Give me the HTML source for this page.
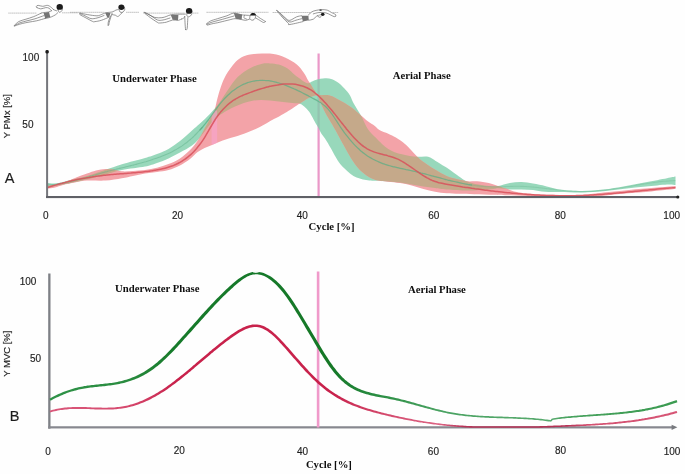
<!DOCTYPE html>
<html lang="en"><head><meta charset="utf-8"><title>Figure</title>
<style>html,body{margin:0;padding:0;background:#fefefe}body{width:685px;height:474px;overflow:hidden}svg{display:block}</style>
</head><body>
<svg width="685" height="474" viewBox="0 0 685 474">
<defs><clipPath id="rc"><path d="M47.0 186.0C48.3 185.8 52.3 185.5 55.0 185.0C57.7 184.5 59.7 184.2 63.0 183.0C66.3 181.8 71.0 179.6 75.0 178.0C79.0 176.4 83.5 174.8 87.0 173.6C90.5 172.3 92.9 171.3 96.0 170.5C99.1 169.7 102.6 169.2 105.4 169.0C108.2 168.8 110.3 169.1 113.0 169.5C115.7 169.9 118.5 171.1 121.8 171.3C125.1 171.6 129.1 171.2 133.0 171.0C136.9 170.8 141.0 170.5 145.0 170.0C149.0 169.5 153.1 168.8 157.0 167.8C160.9 166.8 164.7 165.6 168.5 164.0C172.3 162.4 176.1 161.1 180.0 158.4C183.9 155.7 188.7 151.6 192.0 148.0C195.3 144.4 197.7 140.7 200.0 137.0C202.3 133.3 204.2 129.3 206.0 126.0C207.8 122.7 209.6 119.7 211.0 117.0C212.4 114.3 213.5 113.1 214.6 110.0C215.7 106.9 216.3 102.3 217.4 98.4C218.5 94.5 219.5 90.6 220.9 86.7C222.3 82.8 223.8 78.9 226.0 75.0C228.2 71.1 231.7 66.3 234.2 63.4C236.7 60.5 238.6 59.0 241.2 57.5C243.8 56.0 246.5 55.2 250.0 54.5C253.5 53.8 258.1 53.6 262.0 53.5C265.9 53.4 269.7 53.3 273.5 54.0C277.3 54.7 281.1 55.8 285.0 57.5C288.9 59.2 293.7 62.0 296.8 64.5C299.9 67.0 301.9 70.0 303.8 72.7C305.8 75.5 306.7 78.1 308.5 81.0C310.3 83.9 312.7 87.9 314.4 90.2C316.1 92.5 316.1 93.9 318.6 94.8C321.1 95.7 325.9 94.6 329.5 95.5C333.1 96.4 336.3 98.4 340.0 100.4C343.7 102.4 348.1 104.9 351.6 107.4C355.1 109.9 358.3 113.2 361.0 115.5C363.7 117.8 365.5 119.5 367.8 121.3C370.1 123.0 372.9 124.5 374.8 126.0C376.7 127.5 377.1 128.7 379.4 130.0C381.6 131.3 385.6 132.5 388.3 133.8C391.1 135.1 393.1 135.9 395.9 137.6C398.7 139.3 402.5 141.8 405.0 143.9C407.5 146.0 409.1 148.0 411.0 150.0C412.9 152.0 414.5 154.0 416.6 156.0C418.7 158.0 420.4 159.8 423.5 162.0C426.6 164.2 431.1 167.2 435.0 169.5C438.9 171.8 442.8 174.3 446.7 176.0C450.6 177.7 454.9 178.6 458.4 179.5C461.9 180.4 464.7 181.0 467.8 181.3C470.9 181.6 473.5 181.0 477.0 181.3C480.5 181.6 485.3 182.2 488.8 183.0C492.3 183.8 495.3 185.1 498.0 186.0C500.7 186.9 501.9 187.3 505.0 188.3C508.1 189.3 512.9 191.1 516.8 192.0C520.7 192.9 524.6 193.1 528.5 193.5C532.4 193.9 534.8 194.3 540.0 194.6C545.2 194.8 553.0 194.9 560.0 195.0C567.0 195.1 574.8 195.4 582.0 195.0C589.2 194.6 596.4 193.4 603.5 192.6C610.6 191.8 617.7 191.1 624.7 190.4C631.8 189.7 638.8 189.2 645.8 188.6C652.8 188.0 662.0 187.2 667.0 186.8C672.0 186.4 674.1 186.1 675.5 185.9L675.5 188.8C674.1 189.0 672.0 189.3 667.0 189.8C662.0 190.3 652.8 191.4 645.8 192.0C638.8 192.6 631.8 193.0 624.7 193.6C617.7 194.2 610.6 195.2 603.5 195.7C596.4 196.2 589.2 196.5 582.0 196.6C574.8 196.7 568.9 196.6 560.0 196.5C551.1 196.4 537.7 196.1 528.5 195.9C519.3 195.7 510.8 195.4 505.0 195.2C499.2 195.0 498.7 195.0 493.5 194.8C488.3 194.7 479.8 194.5 474.0 194.3C468.2 194.1 463.6 194.0 459.0 193.8C454.4 193.6 450.7 193.6 446.7 193.3C442.7 193.0 438.9 192.5 435.0 191.8C431.1 191.1 427.3 190.1 423.4 189.0C419.5 187.9 415.6 186.5 411.7 185.5C407.8 184.5 403.9 183.6 400.0 183.0C396.1 182.4 391.5 182.0 388.3 181.7C385.1 181.4 383.1 181.3 381.0 181.0C378.9 180.7 377.6 180.6 375.6 180.0C373.7 179.4 371.4 178.5 369.3 177.3C367.2 176.1 365.1 174.6 363.0 172.8C360.9 171.0 358.8 169.0 356.8 166.5C354.8 164.0 352.6 160.7 350.8 157.8C349.0 154.9 347.5 152.0 345.8 149.0C344.1 146.0 342.6 143.3 340.8 140.0C339.0 136.7 336.6 132.2 334.8 129.0C333.0 125.8 331.5 123.3 330.0 120.8C328.5 118.3 327.3 116.4 326.0 114.0C324.7 111.6 323.4 108.7 322.3 106.4C321.2 104.2 320.2 102.3 319.4 100.5C318.6 98.7 319.1 95.9 317.5 95.4C315.9 94.9 312.1 96.4 309.5 97.5C306.9 98.6 304.1 100.7 302.0 102.0C299.9 103.3 298.8 104.2 296.8 105.5C294.8 106.8 292.0 108.8 290.0 110.0C288.0 111.2 287.1 111.8 285.0 113.0C282.9 114.2 280.1 116.0 277.6 117.3C275.2 118.6 272.7 119.7 270.3 121.0C267.9 122.3 265.4 124.0 263.0 125.3C260.6 126.6 258.1 127.9 255.7 129.0C253.3 130.1 250.8 131.0 248.4 132.0C246.0 133.0 243.4 134.0 241.0 134.8C238.6 135.6 236.4 136.3 234.0 137.0C231.6 137.7 229.0 138.4 226.5 139.2C224.0 140.0 221.4 141.0 219.0 142.0C216.6 143.0 214.4 144.0 212.0 145.0C209.6 146.0 207.0 146.8 204.6 148.0C202.2 149.2 199.7 150.5 197.3 152.3C194.9 154.1 192.9 156.8 190.0 159.0C187.1 161.2 183.6 163.6 180.0 165.4C176.4 167.2 172.3 168.9 168.5 170.0C164.7 171.1 160.9 171.4 157.0 172.0C153.1 172.6 149.0 172.9 145.0 173.6C141.0 174.3 136.9 175.2 133.0 176.0C129.1 176.8 126.4 177.5 121.8 178.3C117.2 179.1 111.2 180.2 105.4 180.6C99.6 181.0 92.1 180.3 87.0 180.6C81.9 180.9 79.0 181.8 75.0 182.5C71.0 183.2 66.3 184.2 63.0 185.0C59.7 185.8 57.7 186.9 55.0 187.5C52.3 188.1 48.3 188.6 47.0 188.8Z"/></clipPath><clipPath id="gc"><path d="M47.0 183.0C48.3 183.1 52.3 183.7 55.0 183.5C57.7 183.3 59.7 182.8 63.0 182.0C66.3 181.2 71.0 180.0 75.0 179.0C79.0 178.0 82.0 177.5 87.0 176.0C92.0 174.5 99.2 171.9 105.0 170.0C110.8 168.1 115.3 166.3 122.0 164.3C128.7 162.3 139.2 159.7 145.0 158.0C150.8 156.3 153.1 155.5 157.0 154.0C160.9 152.5 164.7 151.2 168.5 149.0C172.3 146.8 176.1 144.1 180.0 141.0C183.9 137.9 188.7 133.3 192.0 130.4C195.3 127.5 196.9 126.2 200.0 123.4C203.1 120.6 207.2 116.9 210.4 113.5C213.6 110.1 216.7 106.3 219.3 102.8C222.0 99.3 223.7 96.1 226.3 92.3C228.9 88.5 232.1 83.4 235.0 80.0C237.9 76.6 240.9 74.3 243.8 72.1C246.7 69.9 249.6 68.3 252.5 66.9C255.4 65.5 258.4 64.5 261.3 63.9C264.2 63.3 267.1 63.3 270.0 63.4C272.9 63.5 275.9 63.7 278.8 64.6C281.7 65.5 285.0 66.9 287.6 68.6C290.2 70.3 292.3 72.9 294.6 74.8C296.9 76.7 299.7 78.7 301.6 80.0C303.5 81.3 304.8 82.3 306.0 82.8C307.2 83.3 307.9 83.4 308.9 83.2C309.9 83.0 310.7 82.2 311.9 81.6C313.1 81.0 314.1 80.2 316.3 79.7C318.5 79.2 322.4 78.4 325.0 78.3C327.6 78.2 329.7 78.4 332.0 79.2C334.3 80.0 336.7 81.4 339.0 83.2C341.3 85.0 344.2 88.2 346.0 90.2C347.8 92.2 348.7 93.1 350.0 95.4C351.3 97.7 352.2 100.7 354.0 104.0C355.8 107.3 358.7 111.3 361.0 115.5C363.3 119.7 365.4 125.3 367.8 129.0C370.2 132.7 373.2 135.1 375.6 137.6C378.0 140.1 379.9 142.0 382.0 143.9C384.1 145.8 386.2 147.6 388.3 149.0C390.4 150.4 392.5 151.4 394.6 152.2C396.7 153.0 398.5 153.4 401.0 154.0C403.5 154.6 406.8 155.5 409.6 156.0C412.4 156.5 414.9 156.7 417.7 156.8C420.5 156.9 424.2 156.3 426.6 156.6C429.0 156.9 430.3 157.6 432.0 158.5C433.7 159.4 434.2 160.1 437.0 161.8C439.8 163.6 445.0 166.6 448.7 169.0C452.4 171.4 456.1 174.5 459.0 176.5C461.9 178.5 463.0 179.7 466.0 181.0C469.0 182.3 473.2 183.5 477.0 184.3C480.8 185.1 485.3 185.7 488.8 186.0C492.3 186.3 494.5 186.5 498.0 186.0C501.5 185.5 505.9 183.7 509.8 183.0C513.7 182.3 517.6 181.9 521.5 182.0C525.4 182.1 529.1 182.9 533.0 183.6C536.9 184.3 542.1 185.3 545.0 186.0C547.9 186.7 547.9 186.9 550.6 187.5C553.3 188.1 555.8 189.1 561.0 189.7C566.2 190.3 574.9 190.9 582.0 190.9C589.1 190.9 596.4 190.4 603.5 189.6C610.6 188.8 617.7 187.4 624.7 186.2C631.8 185.0 638.8 183.6 645.8 182.3C652.8 181.0 662.0 179.1 667.0 178.2C672.0 177.2 674.1 176.9 675.5 176.6L675.5 185.0C674.1 184.9 672.0 184.2 667.0 184.5C662.0 184.8 652.8 185.9 645.8 186.6C638.8 187.3 631.8 187.9 624.7 188.7C617.7 189.5 610.6 190.6 603.5 191.2C596.4 191.8 589.2 192.4 582.0 192.5C574.8 192.6 566.2 192.1 560.0 192.0C553.8 191.9 549.5 192.1 545.0 191.8C540.5 191.5 536.9 190.4 533.0 190.0C529.1 189.6 525.3 189.5 521.5 189.4C517.7 189.3 513.9 189.6 510.0 189.4C506.1 189.2 500.8 188.4 498.0 188.3C495.2 188.2 498.2 188.6 493.5 189.0C488.8 189.4 477.8 190.4 470.0 190.5C462.2 190.6 452.5 189.9 446.7 189.5C440.9 189.1 438.9 188.5 435.0 188.0C431.1 187.5 427.3 187.1 423.4 186.5C419.5 185.9 415.6 185.2 411.7 184.5C407.8 183.8 403.9 183.0 400.0 182.5C396.1 182.0 392.4 181.8 388.3 181.5C384.2 181.2 378.8 181.0 375.6 180.8C372.4 180.6 371.4 180.6 369.3 180.4C367.2 180.2 365.1 179.9 363.0 179.4C360.9 178.9 358.7 178.4 356.6 177.5C354.5 176.6 352.4 175.3 350.3 173.7C348.2 172.1 346.1 170.2 344.0 168.0C341.9 165.8 339.8 163.6 337.7 160.4C335.6 157.2 333.4 152.7 331.3 149.0C329.2 145.3 326.7 141.1 325.0 138.5C323.3 135.9 322.6 135.5 321.3 133.5C320.1 131.5 318.8 128.6 317.5 126.3C316.2 124.0 315.1 122.2 313.7 119.7C312.3 117.2 310.6 113.8 309.0 111.6C307.4 109.4 305.8 107.7 304.2 106.4C302.6 105.1 300.7 104.1 299.5 103.6C298.3 103.1 298.8 103.5 296.8 103.3C294.8 103.1 290.6 102.8 287.6 102.5C284.6 102.2 281.7 101.9 278.8 101.6C275.9 101.3 272.9 100.9 270.0 100.6C267.1 100.3 264.2 100.0 261.3 100.0C258.4 100.0 255.4 100.3 252.5 100.8C249.6 101.3 246.7 102.0 243.8 103.0C240.9 104.0 237.8 105.2 235.0 106.5C232.2 107.8 229.5 109.1 226.7 110.8C223.9 112.5 220.7 114.3 218.0 116.5C215.3 118.7 213.4 120.5 210.4 124.0C207.4 127.5 203.1 133.8 200.0 137.4C196.9 141.0 195.3 143.1 192.0 145.6C188.7 148.1 183.9 150.5 180.0 152.6C176.1 154.7 172.3 156.7 168.5 158.4C164.7 160.1 160.9 161.6 157.0 163.0C153.1 164.4 150.8 165.4 145.0 166.6C139.2 167.8 128.7 168.6 122.0 170.0C115.3 171.4 110.8 173.2 105.0 174.8C99.2 176.4 94.0 177.9 87.0 179.5C80.0 181.1 69.7 183.2 63.0 184.5C56.3 185.8 49.7 187.1 47.0 187.6Z"/></clipPath>
<filter id="bl" x="-5%" y="-5%" width="110%" height="110%"><feGaussianBlur stdDeviation="0.45"/></filter>
<filter id="bl2" x="-5%" y="-5%" width="110%" height="110%"><feGaussianBlur stdDeviation="0.35"/></filter><filter id="bl3" x="-5%" y="-20%" width="110%" height="140%"><feGaussianBlur stdDeviation="0.3"/></filter></defs>
<rect width="685" height="474" fill="#fefefe"/>
<g filter="url(#bl3)">
<g stroke="#9c9c9c" stroke-width="0.6" stroke-dasharray="1.6 0.3" fill="none">
<path d="M8.2 13.1H36.6"/>
<path d="M62.0 12.8H78.0"/>
<path d="M70.0 12.3H104.5"/>
<path d="M126.0 12.3H139.0"/>
<path d="M143.2 13.1H185.3"/>
<path d="M193.0 13.1H198.7"/>
<path d="M206.4 12.3H268.5"/>
<path d="M272.6 12.5H310.5"/>
<path d="M332.8 12.5H338.5"/>
</g>
<g stroke="#6c6c6c" stroke-width="0.7" fill="none" stroke-linejoin="round" stroke-linecap="round">
<path d="M41.1 13.2C39.8 13.8 36.0 15.7 33.5 16.7C31.0 17.7 28.3 18.4 25.9 19.2C23.5 20.0 20.8 20.5 18.9 21.5C17.0 22.5 15.2 24.7 14.5 25.3"/>
<path d="M45.2 18.4C43.8 18.8 39.3 20.2 36.6 20.8C33.9 21.4 31.3 21.7 29.0 22.1C26.7 22.5 24.8 22.9 22.7 23.4C20.6 23.9 17.8 24.8 16.4 25.3C15.0 25.8 14.5 26.2 14.2 26.2C13.9 26.2 14.4 25.4 14.5 25.3"/>
<path d="M51.5 10.8C51.0 11.0 49.9 11.7 48.4 12.0C46.9 12.3 43.9 12.5 42.7 12.7C41.5 12.9 41.4 13.1 41.1 13.2"/>
<path d="M57.8 12.7C57.4 13.1 56.3 14.2 55.3 14.9C54.2 15.6 52.5 16.3 51.5 16.8C50.5 17.3 50.0 17.4 49.0 17.7C48.0 18.0 45.8 18.3 45.2 18.4"/>
<path d="M53.4 9.5C53.1 9.2 52.5 8.3 51.5 7.6C50.5 6.9 49.2 5.6 47.7 5.4C46.2 5.2 44.3 6.3 42.7 6.3C41.1 6.3 39.3 5.4 38.2 5.4C37.1 5.4 36.5 5.9 36.3 6.3C36.1 6.7 36.9 7.4 37.0 7.6"/>
<path d="M37.0 7.6C37.6 7.8 39.3 8.9 40.8 8.9C42.3 8.9 44.4 7.7 45.8 7.6C47.2 7.5 48.0 7.7 49.0 8.2C50.0 8.7 51.1 10.4 51.5 10.8"/>
<path d="M53.4 9.5C53.9 9.7 55.9 10.8 56.6 10.8C57.3 10.8 57.4 9.8 57.6 9.6"/>
<path d="M118.4 9.5C118.0 9.6 117.0 9.7 115.9 10.1C114.9 10.5 113.8 11.6 112.1 12.0C110.4 12.4 107.6 12.3 105.8 12.7C104.0 13.1 102.8 14.1 101.3 14.6C99.8 15.1 99.2 15.8 96.9 15.8C94.6 15.8 90.3 15.1 87.5 14.6C84.7 14.1 81.2 13.3 79.9 13.1"/>
<path d="M109.2 17.1C107.9 17.6 103.7 19.6 101.3 20.3C98.9 21.1 96.5 21.4 95.0 21.6C93.5 21.8 94.1 22.1 92.5 21.4C90.9 20.7 87.3 18.6 85.2 17.5C83.1 16.4 80.8 15.3 79.9 14.6C79.0 13.9 79.9 13.3 79.9 13.1"/>
<path d="M122.8 12.0C122.4 12.4 121.1 13.8 120.3 14.6C119.5 15.3 118.6 16.4 117.8 16.5C117.0 16.6 116.2 15.5 115.3 15.2C114.3 14.9 112.6 14.7 112.1 14.6"/>
<path d="M112.1 13.3C111.8 14.2 110.8 17.1 110.2 19.0C109.6 20.9 108.9 24.0 108.6 25.0"/>
<path d="M110.8 15.8C110.4 16.6 109.1 19.3 108.6 20.9C108.1 22.5 108.0 24.6 108.0 25.3C108.0 26.0 108.5 25.1 108.6 25.0"/>
<path d="M185.3 14.2C184.2 14.2 181.3 14.1 179.0 14.2C176.7 14.3 173.5 14.2 171.4 14.6C169.3 15.0 167.9 16.0 166.3 16.5C164.7 17.0 163.8 17.5 161.9 17.7C160.0 17.9 157.1 18.0 154.9 17.5C152.8 17.0 150.8 15.5 149.0 14.6C147.2 13.7 145.1 12.7 144.3 12.3"/>
<path d="M181.5 19.0C181.0 19.2 179.9 20.1 178.4 20.3C176.9 20.5 174.7 19.7 172.7 20.0C170.7 20.3 168.5 21.7 166.3 22.2C164.1 22.7 161.0 23.0 159.5 23.0C158.0 23.0 158.8 23.1 157.2 22.2C155.6 21.3 152.2 19.0 150.2 17.5C148.1 16.0 145.9 14.3 144.9 13.4C143.9 12.5 144.4 12.5 144.3 12.3"/>
<path d="M184.7 16.5C184.8 17.4 184.9 20.0 185.0 22.2C185.1 24.4 185.4 28.3 185.5 29.5"/>
<path d="M187.8 17.7C187.8 18.8 187.6 22.1 187.5 24.0C187.4 25.9 187.3 28.4 187.0 29.3C186.7 30.2 185.8 29.5 185.5 29.5"/>
<path d="M181.5 19.0C181.8 18.9 183.0 18.7 183.5 18.3C184.0 17.9 184.5 16.8 184.7 16.5"/>
<path d="M250.3 15.5C249.6 15.4 247.2 15.3 245.8 15.2C244.4 15.1 244.0 15.2 242.0 14.9C240.0 14.6 236.4 12.9 233.9 13.1C231.4 13.2 229.6 14.9 226.9 15.8C224.2 16.7 220.2 17.8 217.5 18.7C214.8 19.6 212.2 20.2 210.5 21.0C208.8 21.8 207.6 23.0 207.0 23.4"/>
<path d="M249.6 19.0C249.0 19.2 247.1 20.2 245.8 20.3C244.5 20.4 243.5 19.9 241.7 19.6C239.9 19.3 237.1 18.6 235.0 18.7C232.9 18.8 231.7 19.3 229.2 19.9C226.7 20.5 222.8 21.5 219.9 22.2C217.0 22.9 213.8 23.4 211.7 23.9C209.5 24.4 207.8 25.2 207.0 25.1C206.2 25.0 207.0 23.7 207.0 23.4"/>
<path d="M256.0 15.2C256.7 15.7 258.8 17.3 260.4 18.4C262.0 19.4 264.6 21.0 265.4 21.5"/>
<path d="M255.3 17.7C256.0 18.1 258.3 19.5 259.7 20.3C261.1 21.1 262.6 22.3 263.5 22.5C264.4 22.7 265.1 21.7 265.4 21.5"/>
<path d="M244.6 15.2C244.5 15.6 243.6 17.1 243.9 17.7C244.2 18.3 246.1 18.8 246.5 19.0"/>
<path d="M276.7 10.5C277.7 11.7 280.6 15.3 282.5 17.5C284.4 19.6 287.3 22.2 288.4 23.4C289.4 24.6 287.6 24.6 288.8 24.6C290.0 24.6 293.0 23.9 295.4 23.4C297.8 22.9 301.6 21.9 302.9 21.6"/>
<path d="M276.7 10.5C276.9 10.6 276.5 9.9 277.9 11.1C279.3 12.3 283.0 15.9 284.9 17.5C286.8 19.1 287.6 20.5 289.5 20.4C291.4 20.3 294.5 17.7 296.5 16.9C298.5 16.1 300.7 15.9 301.5 15.7"/>
<path d="M308.4 15.0C309.0 14.5 310.6 12.6 311.9 11.8C313.2 11.0 314.6 10.8 316.1 10.4C317.6 10.1 319.1 9.8 321.0 9.7C322.9 9.6 325.5 9.6 327.2 10.1C328.9 10.6 330.0 11.8 331.4 12.5C332.8 13.2 334.9 14.0 335.6 14.6C336.3 15.2 335.6 15.8 335.6 16.0"/>
<path d="M313.3 13.9C314.2 13.7 316.8 12.7 318.9 12.5C321.0 12.3 323.9 12.5 325.9 12.9C327.9 13.3 329.3 14.4 330.7 15.0C332.1 15.6 333.4 16.5 334.2 16.7C335.0 16.9 335.4 16.1 335.6 16.0"/>
<path d="M308.8 20.2C309.6 20.0 312.0 19.9 313.3 19.2C314.6 18.5 315.6 16.7 316.8 16.0C318.0 15.3 319.7 15.2 320.3 15.0"/>
<path d="M44.0 15.6C42.5 16.1 37.8 17.9 35.0 18.8C32.2 19.7 29.5 20.1 27.0 20.8C24.5 21.5 21.9 22.1 20.0 22.8C18.1 23.5 16.2 24.8 15.5 25.2"/>
<path d="M104.0 15.5C102.8 15.9 99.2 17.5 97.0 18.0C94.8 18.5 93.0 19.0 91.0 18.6C89.0 18.2 86.8 16.6 85.0 15.8C83.2 15.0 81.2 14.1 80.5 13.8"/>
<path d="M170.0 18.0C168.8 18.3 165.1 19.7 163.0 20.0C160.9 20.3 159.5 20.7 157.5 20.0C155.5 19.3 153.0 17.0 151.0 15.8C149.0 14.6 146.4 13.3 145.5 12.8"/>
<path d="M234.0 16.0C232.8 16.3 229.7 17.2 227.0 18.0C224.3 18.8 220.7 19.8 218.0 20.5C215.3 21.2 212.8 21.9 211.0 22.5C209.2 23.1 208.1 23.9 207.5 24.2"/>
<path d="M302.0 18.6C301.0 18.9 298.0 19.6 296.0 20.2C294.0 20.8 291.7 22.1 290.0 22.0C288.3 21.9 287.7 20.9 286.0 19.5C284.3 18.1 281.0 14.5 280.0 13.5"/>
<path d="M58.3 9.2C58.3 9.6 58.3 11.0 58.6 11.5C58.9 12.0 59.4 12.5 59.9 12.4C60.4 12.3 61.0 11.7 61.4 11.2C61.8 10.7 62.3 10.2 62.4 9.6C62.5 9.0 62.2 7.9 62.2 7.6" fill="#fefefe"/>
<path d="M119.2 10.0C119.3 10.3 119.5 11.6 120.0 12.0C120.5 12.4 121.5 12.6 122.2 12.4C122.9 12.2 123.6 11.5 124.0 11.0C124.4 10.5 124.8 9.8 124.8 9.2C124.8 8.6 124.4 7.6 124.3 7.3" fill="#fefefe"/>
<path d="M186.8 13.6C186.8 14.0 186.7 15.2 187.0 15.8C187.3 16.4 188.0 16.9 188.6 16.9C189.2 16.9 190.0 16.3 190.6 15.8C191.2 15.3 191.7 14.5 191.9 13.8C192.1 13.1 192.0 11.9 192.0 11.5" fill="#fefefe"/>
<path d="M250.0 16.2C250.0 16.6 249.5 17.9 249.8 18.6C250.1 19.3 251.1 20.0 251.8 20.2C252.5 20.4 253.4 20.0 254.0 19.6C254.6 19.2 255.0 18.3 255.3 17.7C255.6 17.1 255.6 16.3 255.6 16.0" fill="#fefefe"/>
<path d="M317.8 15.6C317.9 15.8 318.2 16.7 318.6 17.0C319.0 17.3 319.8 17.4 320.3 17.2C320.8 17.0 321.2 16.2 321.4 16.0" fill="#fefefe"/>
</g>
<g>
<ellipse cx="59.7" cy="6.9" rx="3.2" ry="2.9" fill="#1a1a1a"/>
<path d="M43.6 13.0 L49.0 12.1 L50.3 17.1 L45.2 18.4Z" fill="#747474"/>
<ellipse cx="121.4" cy="7.2" rx="3.0" ry="2.7" fill="#1a1a1a"/>
<path d="M105.1 12.7 L110.5 13.0 L109.2 17.1 L107.3 17.4Z" fill="#747474"/>
<ellipse cx="189.1" cy="10.9" rx="3.2" ry="2.9" fill="#1a1a1a"/>
<path d="M170.8 14.9 L178.4 14.9 L178.0 20.3 L172.7 19.8Z" fill="#747474"/>
<path d="M250.2 15.5 L250.6 14.0 L252.0 13.1 L254.2 13.1 L255.6 14.0 L256.0 15.5Z" fill="#1a1a1a"/>
<path d="M233.8 13.0 L242.0 14.6 L241.7 19.6 L235.7 18.7Z" fill="#747474"/>
<ellipse cx="322.7" cy="14.3" rx="1.8" ry="1.6" fill="#1a1a1a"/>
<ellipse cx="320.6" cy="10.1" rx="1.3" ry="0.6" fill="#1a1a1a"/>
<path d="M301.5 15.7 L308.4 15.7 L308.8 20.2 L302.9 21.6Z" fill="#747474"/>
</g></g>
<g filter="url(#bl)">
<rect x="317.5" y="53.5" width="2.2" height="143.5" fill="#ea98c8"/>
<path d="M47.0 183.0C48.3 183.1 52.3 183.7 55.0 183.5C57.7 183.3 59.7 182.8 63.0 182.0C66.3 181.2 71.0 180.0 75.0 179.0C79.0 178.0 82.0 177.5 87.0 176.0C92.0 174.5 99.2 171.9 105.0 170.0C110.8 168.1 115.3 166.3 122.0 164.3C128.7 162.3 139.2 159.7 145.0 158.0C150.8 156.3 153.1 155.5 157.0 154.0C160.9 152.5 164.7 151.2 168.5 149.0C172.3 146.8 176.1 144.1 180.0 141.0C183.9 137.9 188.7 133.3 192.0 130.4C195.3 127.5 196.9 126.2 200.0 123.4C203.1 120.6 207.2 116.9 210.4 113.5C213.6 110.1 216.7 106.3 219.3 102.8C222.0 99.3 223.7 96.1 226.3 92.3C228.9 88.5 232.1 83.4 235.0 80.0C237.9 76.6 240.9 74.3 243.8 72.1C246.7 69.9 249.6 68.3 252.5 66.9C255.4 65.5 258.4 64.5 261.3 63.9C264.2 63.3 267.1 63.3 270.0 63.4C272.9 63.5 275.9 63.7 278.8 64.6C281.7 65.5 285.0 66.9 287.6 68.6C290.2 70.3 292.3 72.9 294.6 74.8C296.9 76.7 299.7 78.7 301.6 80.0C303.5 81.3 304.8 82.3 306.0 82.8C307.2 83.3 307.9 83.4 308.9 83.2C309.9 83.0 310.7 82.2 311.9 81.6C313.1 81.0 314.1 80.2 316.3 79.7C318.5 79.2 322.4 78.4 325.0 78.3C327.6 78.2 329.7 78.4 332.0 79.2C334.3 80.0 336.7 81.4 339.0 83.2C341.3 85.0 344.2 88.2 346.0 90.2C347.8 92.2 348.7 93.1 350.0 95.4C351.3 97.7 352.2 100.7 354.0 104.0C355.8 107.3 358.7 111.3 361.0 115.5C363.3 119.7 365.4 125.3 367.8 129.0C370.2 132.7 373.2 135.1 375.6 137.6C378.0 140.1 379.9 142.0 382.0 143.9C384.1 145.8 386.2 147.6 388.3 149.0C390.4 150.4 392.5 151.4 394.6 152.2C396.7 153.0 398.5 153.4 401.0 154.0C403.5 154.6 406.8 155.5 409.6 156.0C412.4 156.5 414.9 156.7 417.7 156.8C420.5 156.9 424.2 156.3 426.6 156.6C429.0 156.9 430.3 157.6 432.0 158.5C433.7 159.4 434.2 160.1 437.0 161.8C439.8 163.6 445.0 166.6 448.7 169.0C452.4 171.4 456.1 174.5 459.0 176.5C461.9 178.5 463.0 179.7 466.0 181.0C469.0 182.3 473.2 183.5 477.0 184.3C480.8 185.1 485.3 185.7 488.8 186.0C492.3 186.3 494.5 186.5 498.0 186.0C501.5 185.5 505.9 183.7 509.8 183.0C513.7 182.3 517.6 181.9 521.5 182.0C525.4 182.1 529.1 182.9 533.0 183.6C536.9 184.3 542.1 185.3 545.0 186.0C547.9 186.7 547.9 186.9 550.6 187.5C553.3 188.1 555.8 189.1 561.0 189.7C566.2 190.3 574.9 190.9 582.0 190.9C589.1 190.9 596.4 190.4 603.5 189.6C610.6 188.8 617.7 187.4 624.7 186.2C631.8 185.0 638.8 183.6 645.8 182.3C652.8 181.0 662.0 179.1 667.0 178.2C672.0 177.2 674.1 176.9 675.5 176.6L675.5 185.0C674.1 184.9 672.0 184.2 667.0 184.5C662.0 184.8 652.8 185.9 645.8 186.6C638.8 187.3 631.8 187.9 624.7 188.7C617.7 189.5 610.6 190.6 603.5 191.2C596.4 191.8 589.2 192.4 582.0 192.5C574.8 192.6 566.2 192.1 560.0 192.0C553.8 191.9 549.5 192.1 545.0 191.8C540.5 191.5 536.9 190.4 533.0 190.0C529.1 189.6 525.3 189.5 521.5 189.4C517.7 189.3 513.9 189.6 510.0 189.4C506.1 189.2 500.8 188.4 498.0 188.3C495.2 188.2 498.2 188.6 493.5 189.0C488.8 189.4 477.8 190.4 470.0 190.5C462.2 190.6 452.5 189.9 446.7 189.5C440.9 189.1 438.9 188.5 435.0 188.0C431.1 187.5 427.3 187.1 423.4 186.5C419.5 185.9 415.6 185.2 411.7 184.5C407.8 183.8 403.9 183.0 400.0 182.5C396.1 182.0 392.4 181.8 388.3 181.5C384.2 181.2 378.8 181.0 375.6 180.8C372.4 180.6 371.4 180.6 369.3 180.4C367.2 180.2 365.1 179.9 363.0 179.4C360.9 178.9 358.7 178.4 356.6 177.5C354.5 176.6 352.4 175.3 350.3 173.7C348.2 172.1 346.1 170.2 344.0 168.0C341.9 165.8 339.8 163.6 337.7 160.4C335.6 157.2 333.4 152.7 331.3 149.0C329.2 145.3 326.7 141.1 325.0 138.5C323.3 135.9 322.6 135.5 321.3 133.5C320.1 131.5 318.8 128.6 317.5 126.3C316.2 124.0 315.1 122.2 313.7 119.7C312.3 117.2 310.6 113.8 309.0 111.6C307.4 109.4 305.8 107.7 304.2 106.4C302.6 105.1 300.7 104.1 299.5 103.6C298.3 103.1 298.8 103.5 296.8 103.3C294.8 103.1 290.6 102.8 287.6 102.5C284.6 102.2 281.7 101.9 278.8 101.6C275.9 101.3 272.9 100.9 270.0 100.6C267.1 100.3 264.2 100.0 261.3 100.0C258.4 100.0 255.4 100.3 252.5 100.8C249.6 101.3 246.7 102.0 243.8 103.0C240.9 104.0 237.8 105.2 235.0 106.5C232.2 107.8 229.5 109.1 226.7 110.8C223.9 112.5 220.7 114.3 218.0 116.5C215.3 118.7 213.4 120.5 210.4 124.0C207.4 127.5 203.1 133.8 200.0 137.4C196.9 141.0 195.3 143.1 192.0 145.6C188.7 148.1 183.9 150.5 180.0 152.6C176.1 154.7 172.3 156.7 168.5 158.4C164.7 160.1 160.9 161.6 157.0 163.0C153.1 164.4 150.8 165.4 145.0 166.6C139.2 167.8 128.7 168.6 122.0 170.0C115.3 171.4 110.8 173.2 105.0 174.8C99.2 176.4 94.0 177.9 87.0 179.5C80.0 181.1 69.7 183.2 63.0 184.5C56.3 185.8 49.7 187.1 47.0 187.6Z" fill="#7eceaa" fill-opacity="0.8"/>
<path d="M47.0 186.0C48.3 185.8 52.3 185.5 55.0 185.0C57.7 184.5 59.7 184.2 63.0 183.0C66.3 181.8 71.0 179.6 75.0 178.0C79.0 176.4 83.5 174.8 87.0 173.6C90.5 172.3 92.9 171.3 96.0 170.5C99.1 169.7 102.6 169.2 105.4 169.0C108.2 168.8 110.3 169.1 113.0 169.5C115.7 169.9 118.5 171.1 121.8 171.3C125.1 171.6 129.1 171.2 133.0 171.0C136.9 170.8 141.0 170.5 145.0 170.0C149.0 169.5 153.1 168.8 157.0 167.8C160.9 166.8 164.7 165.6 168.5 164.0C172.3 162.4 176.1 161.1 180.0 158.4C183.9 155.7 188.7 151.6 192.0 148.0C195.3 144.4 197.7 140.7 200.0 137.0C202.3 133.3 204.2 129.3 206.0 126.0C207.8 122.7 209.6 119.7 211.0 117.0C212.4 114.3 213.5 113.1 214.6 110.0C215.7 106.9 216.3 102.3 217.4 98.4C218.5 94.5 219.5 90.6 220.9 86.7C222.3 82.8 223.8 78.9 226.0 75.0C228.2 71.1 231.7 66.3 234.2 63.4C236.7 60.5 238.6 59.0 241.2 57.5C243.8 56.0 246.5 55.2 250.0 54.5C253.5 53.8 258.1 53.6 262.0 53.5C265.9 53.4 269.7 53.3 273.5 54.0C277.3 54.7 281.1 55.8 285.0 57.5C288.9 59.2 293.7 62.0 296.8 64.5C299.9 67.0 301.9 70.0 303.8 72.7C305.8 75.5 306.7 78.1 308.5 81.0C310.3 83.9 312.7 87.9 314.4 90.2C316.1 92.5 316.1 93.9 318.6 94.8C321.1 95.7 325.9 94.6 329.5 95.5C333.1 96.4 336.3 98.4 340.0 100.4C343.7 102.4 348.1 104.9 351.6 107.4C355.1 109.9 358.3 113.2 361.0 115.5C363.7 117.8 365.5 119.5 367.8 121.3C370.1 123.0 372.9 124.5 374.8 126.0C376.7 127.5 377.1 128.7 379.4 130.0C381.6 131.3 385.6 132.5 388.3 133.8C391.1 135.1 393.1 135.9 395.9 137.6C398.7 139.3 402.5 141.8 405.0 143.9C407.5 146.0 409.1 148.0 411.0 150.0C412.9 152.0 414.5 154.0 416.6 156.0C418.7 158.0 420.4 159.8 423.5 162.0C426.6 164.2 431.1 167.2 435.0 169.5C438.9 171.8 442.8 174.3 446.7 176.0C450.6 177.7 454.9 178.6 458.4 179.5C461.9 180.4 464.7 181.0 467.8 181.3C470.9 181.6 473.5 181.0 477.0 181.3C480.5 181.6 485.3 182.2 488.8 183.0C492.3 183.8 495.3 185.1 498.0 186.0C500.7 186.9 501.9 187.3 505.0 188.3C508.1 189.3 512.9 191.1 516.8 192.0C520.7 192.9 524.6 193.1 528.5 193.5C532.4 193.9 534.8 194.3 540.0 194.6C545.2 194.8 553.0 194.9 560.0 195.0C567.0 195.1 574.8 195.4 582.0 195.0C589.2 194.6 596.4 193.4 603.5 192.6C610.6 191.8 617.7 191.1 624.7 190.4C631.8 189.7 638.8 189.2 645.8 188.6C652.8 188.0 662.0 187.2 667.0 186.8C672.0 186.4 674.1 186.1 675.5 185.9L675.5 188.8C674.1 189.0 672.0 189.3 667.0 189.8C662.0 190.3 652.8 191.4 645.8 192.0C638.8 192.6 631.8 193.0 624.7 193.6C617.7 194.2 610.6 195.2 603.5 195.7C596.4 196.2 589.2 196.5 582.0 196.6C574.8 196.7 568.9 196.6 560.0 196.5C551.1 196.4 537.7 196.1 528.5 195.9C519.3 195.7 510.8 195.4 505.0 195.2C499.2 195.0 498.7 195.0 493.5 194.8C488.3 194.7 479.8 194.5 474.0 194.3C468.2 194.1 463.6 194.0 459.0 193.8C454.4 193.6 450.7 193.6 446.7 193.3C442.7 193.0 438.9 192.5 435.0 191.8C431.1 191.1 427.3 190.1 423.4 189.0C419.5 187.9 415.6 186.5 411.7 185.5C407.8 184.5 403.9 183.6 400.0 183.0C396.1 182.4 391.5 182.0 388.3 181.7C385.1 181.4 383.1 181.3 381.0 181.0C378.9 180.7 377.6 180.6 375.6 180.0C373.7 179.4 371.4 178.5 369.3 177.3C367.2 176.1 365.1 174.6 363.0 172.8C360.9 171.0 358.8 169.0 356.8 166.5C354.8 164.0 352.6 160.7 350.8 157.8C349.0 154.9 347.5 152.0 345.8 149.0C344.1 146.0 342.6 143.3 340.8 140.0C339.0 136.7 336.6 132.2 334.8 129.0C333.0 125.8 331.5 123.3 330.0 120.8C328.5 118.3 327.3 116.4 326.0 114.0C324.7 111.6 323.4 108.7 322.3 106.4C321.2 104.2 320.2 102.3 319.4 100.5C318.6 98.7 319.1 95.9 317.5 95.4C315.9 94.9 312.1 96.4 309.5 97.5C306.9 98.6 304.1 100.7 302.0 102.0C299.9 103.3 298.8 104.2 296.8 105.5C294.8 106.8 292.0 108.8 290.0 110.0C288.0 111.2 287.1 111.8 285.0 113.0C282.9 114.2 280.1 116.0 277.6 117.3C275.2 118.6 272.7 119.7 270.3 121.0C267.9 122.3 265.4 124.0 263.0 125.3C260.6 126.6 258.1 127.9 255.7 129.0C253.3 130.1 250.8 131.0 248.4 132.0C246.0 133.0 243.4 134.0 241.0 134.8C238.6 135.6 236.4 136.3 234.0 137.0C231.6 137.7 229.0 138.4 226.5 139.2C224.0 140.0 221.4 141.0 219.0 142.0C216.6 143.0 214.4 144.0 212.0 145.0C209.6 146.0 207.0 146.8 204.6 148.0C202.2 149.2 199.7 150.5 197.3 152.3C194.9 154.1 192.9 156.8 190.0 159.0C187.1 161.2 183.6 163.6 180.0 165.4C176.4 167.2 172.3 168.9 168.5 170.0C164.7 171.1 160.9 171.4 157.0 172.0C153.1 172.6 149.0 172.9 145.0 173.6C141.0 174.3 136.9 175.2 133.0 176.0C129.1 176.8 126.4 177.5 121.8 178.3C117.2 179.1 111.2 180.2 105.4 180.6C99.6 181.0 92.1 180.3 87.0 180.6C81.9 180.9 79.0 181.8 75.0 182.5C71.0 183.2 66.3 184.2 63.0 185.0C59.7 185.8 57.7 186.9 55.0 187.5C52.3 188.1 48.3 188.6 47.0 188.8Z" fill="#f3a3a8"/>
<path d="M47.0 186.0C48.3 185.8 52.3 185.5 55.0 185.0C57.7 184.5 59.7 184.2 63.0 183.0C66.3 181.8 71.0 179.6 75.0 178.0C79.0 176.4 83.5 174.8 87.0 173.6C90.5 172.3 92.9 171.3 96.0 170.5C99.1 169.7 102.6 169.2 105.4 169.0C108.2 168.8 110.3 169.1 113.0 169.5C115.7 169.9 118.5 171.1 121.8 171.3C125.1 171.6 129.1 171.2 133.0 171.0C136.9 170.8 141.0 170.5 145.0 170.0C149.0 169.5 153.1 168.8 157.0 167.8C160.9 166.8 164.7 165.6 168.5 164.0C172.3 162.4 176.1 161.1 180.0 158.4C183.9 155.7 188.7 151.6 192.0 148.0C195.3 144.4 197.7 140.7 200.0 137.0C202.3 133.3 204.2 129.3 206.0 126.0C207.8 122.7 209.6 119.7 211.0 117.0C212.4 114.3 213.5 113.1 214.6 110.0C215.7 106.9 216.3 102.3 217.4 98.4C218.5 94.5 219.5 90.6 220.9 86.7C222.3 82.8 223.8 78.9 226.0 75.0C228.2 71.1 231.7 66.3 234.2 63.4C236.7 60.5 238.6 59.0 241.2 57.5C243.8 56.0 246.5 55.2 250.0 54.5C253.5 53.8 258.1 53.6 262.0 53.5C265.9 53.4 269.7 53.3 273.5 54.0C277.3 54.7 281.1 55.8 285.0 57.5C288.9 59.2 293.7 62.0 296.8 64.5C299.9 67.0 301.9 70.0 303.8 72.7C305.8 75.5 306.7 78.1 308.5 81.0C310.3 83.9 312.7 87.9 314.4 90.2C316.1 92.5 316.1 93.9 318.6 94.8C321.1 95.7 325.9 94.6 329.5 95.5C333.1 96.4 336.3 98.4 340.0 100.4C343.7 102.4 348.1 104.9 351.6 107.4C355.1 109.9 358.3 113.2 361.0 115.5C363.7 117.8 365.5 119.5 367.8 121.3C370.1 123.0 372.9 124.5 374.8 126.0C376.7 127.5 377.1 128.7 379.4 130.0C381.6 131.3 385.6 132.5 388.3 133.8C391.1 135.1 393.1 135.9 395.9 137.6C398.7 139.3 402.5 141.8 405.0 143.9C407.5 146.0 409.1 148.0 411.0 150.0C412.9 152.0 414.5 154.0 416.6 156.0C418.7 158.0 420.4 159.8 423.5 162.0C426.6 164.2 431.1 167.2 435.0 169.5C438.9 171.8 442.8 174.3 446.7 176.0C450.6 177.7 454.9 178.6 458.4 179.5C461.9 180.4 464.7 181.0 467.8 181.3C470.9 181.6 473.5 181.0 477.0 181.3C480.5 181.6 485.3 182.2 488.8 183.0C492.3 183.8 495.3 185.1 498.0 186.0C500.7 186.9 501.9 187.3 505.0 188.3C508.1 189.3 512.9 191.1 516.8 192.0C520.7 192.9 524.6 193.1 528.5 193.5C532.4 193.9 534.8 194.3 540.0 194.6C545.2 194.8 553.0 194.9 560.0 195.0C567.0 195.1 574.8 195.4 582.0 195.0C589.2 194.6 596.4 193.4 603.5 192.6C610.6 191.8 617.7 191.1 624.7 190.4C631.8 189.7 638.8 189.2 645.8 188.6C652.8 188.0 662.0 187.2 667.0 186.8C672.0 186.4 674.1 186.1 675.5 185.9L675.5 188.8C674.1 189.0 672.0 189.3 667.0 189.8C662.0 190.3 652.8 191.4 645.8 192.0C638.8 192.6 631.8 193.0 624.7 193.6C617.7 194.2 610.6 195.2 603.5 195.7C596.4 196.2 589.2 196.5 582.0 196.6C574.8 196.7 568.9 196.6 560.0 196.5C551.1 196.4 537.7 196.1 528.5 195.9C519.3 195.7 510.8 195.4 505.0 195.2C499.2 195.0 498.7 195.0 493.5 194.8C488.3 194.7 479.8 194.5 474.0 194.3C468.2 194.1 463.6 194.0 459.0 193.8C454.4 193.6 450.7 193.6 446.7 193.3C442.7 193.0 438.9 192.5 435.0 191.8C431.1 191.1 427.3 190.1 423.4 189.0C419.5 187.9 415.6 186.5 411.7 185.5C407.8 184.5 403.9 183.6 400.0 183.0C396.1 182.4 391.5 182.0 388.3 181.7C385.1 181.4 383.1 181.3 381.0 181.0C378.9 180.7 377.6 180.6 375.6 180.0C373.7 179.4 371.4 178.5 369.3 177.3C367.2 176.1 365.1 174.6 363.0 172.8C360.9 171.0 358.8 169.0 356.8 166.5C354.8 164.0 352.6 160.7 350.8 157.8C349.0 154.9 347.5 152.0 345.8 149.0C344.1 146.0 342.6 143.3 340.8 140.0C339.0 136.7 336.6 132.2 334.8 129.0C333.0 125.8 331.5 123.3 330.0 120.8C328.5 118.3 327.3 116.4 326.0 114.0C324.7 111.6 323.4 108.7 322.3 106.4C321.2 104.2 320.2 102.3 319.4 100.5C318.6 98.7 319.1 95.9 317.5 95.4C315.9 94.9 312.1 96.4 309.5 97.5C306.9 98.6 304.1 100.7 302.0 102.0C299.9 103.3 298.8 104.2 296.8 105.5C294.8 106.8 292.0 108.8 290.0 110.0C288.0 111.2 287.1 111.8 285.0 113.0C282.9 114.2 280.1 116.0 277.6 117.3C275.2 118.6 272.7 119.7 270.3 121.0C267.9 122.3 265.4 124.0 263.0 125.3C260.6 126.6 258.1 127.9 255.7 129.0C253.3 130.1 250.8 131.0 248.4 132.0C246.0 133.0 243.4 134.0 241.0 134.8C238.6 135.6 236.4 136.3 234.0 137.0C231.6 137.7 229.0 138.4 226.5 139.2C224.0 140.0 221.4 141.0 219.0 142.0C216.6 143.0 214.4 144.0 212.0 145.0C209.6 146.0 207.0 146.8 204.6 148.0C202.2 149.2 199.7 150.5 197.3 152.3C194.9 154.1 192.9 156.8 190.0 159.0C187.1 161.2 183.6 163.6 180.0 165.4C176.4 167.2 172.3 168.9 168.5 170.0C164.7 171.1 160.9 171.4 157.0 172.0C153.1 172.6 149.0 172.9 145.0 173.6C141.0 174.3 136.9 175.2 133.0 176.0C129.1 176.8 126.4 177.5 121.8 178.3C117.2 179.1 111.2 180.2 105.4 180.6C99.6 181.0 92.1 180.3 87.0 180.6C81.9 180.9 79.0 181.8 75.0 182.5C71.0 183.2 66.3 184.2 63.0 185.0C59.7 185.8 57.7 186.9 55.0 187.5C52.3 188.1 48.3 188.6 47.0 188.8Z" fill="#c5a98a" clip-path="url(#gc)"/>
<g clip-path="url(#rc)"><rect x="211.6" y="110" width="5.6" height="36" rx="2" fill="#f8a6d6" opacity="0.55" filter="url(#bl)"/></g>
<path d="M47.0 184.9C47.5 184.9 49.0 184.9 50.0 184.8C51.0 184.8 52.0 184.7 53.0 184.6C54.0 184.5 55.0 184.4 56.0 184.3C57.0 184.2 58.0 184.1 59.0 183.9C60.0 183.8 61.0 183.6 62.0 183.5C63.0 183.3 64.0 183.1 65.0 182.9C66.0 182.7 67.0 182.5 68.0 182.3C68.9 182.1 69.9 181.9 70.9 181.6C71.9 181.4 72.9 181.2 73.9 180.9C74.9 180.7 75.9 180.4 76.9 180.1C77.9 179.9 78.9 179.6 79.9 179.3C80.9 179.0 81.9 178.8 82.9 178.5C83.9 178.2 84.9 177.9 85.9 177.6C86.9 177.3 87.9 177.0 88.9 176.7C89.9 176.4 90.9 176.1 91.9 175.9C92.9 175.6 93.9 175.3 94.9 175.0C95.9 174.7 96.9 174.4 97.9 174.1C98.9 173.8 99.9 173.5 100.9 173.2C101.9 172.9 102.9 172.6 103.9 172.4C104.9 172.1 105.9 171.8 106.9 171.6C107.9 171.3 108.9 171.0 109.8 170.8C110.8 170.5 111.8 170.3 112.8 170.0C113.8 169.8 114.8 169.5 115.8 169.3C116.8 169.0 117.8 168.8 118.8 168.5C119.8 168.3 120.8 168.0 121.8 167.8C122.8 167.6 123.8 167.3 124.8 167.1C125.8 166.8 126.8 166.6 127.8 166.4C128.8 166.1 129.8 165.9 130.8 165.6C131.8 165.4 132.8 165.1 133.8 164.9C134.8 164.6 135.8 164.4 136.8 164.1C137.8 163.9 138.8 163.6 139.8 163.3C140.8 163.1 141.8 162.8 142.8 162.5C143.8 162.2 144.8 161.9 145.8 161.7C146.8 161.4 147.8 161.1 148.8 160.8C149.8 160.5 150.8 160.2 151.8 159.8C152.7 159.5 153.7 159.2 154.7 158.8C155.7 158.5 156.7 158.2 157.7 157.8C158.7 157.4 159.7 157.1 160.7 156.7C161.7 156.3 162.7 155.9 163.7 155.5C164.7 155.1 165.7 154.7 166.7 154.2C167.7 153.8 168.7 153.4 169.7 152.9C170.7 152.4 171.7 151.9 172.7 151.4C173.7 150.9 174.7 150.3 175.7 149.8C176.7 149.2 177.7 148.6 178.7 148.0C179.7 147.4 180.7 146.7 181.7 146.1C182.7 145.4 183.7 144.7 184.7 143.9C185.7 143.2 186.7 142.5 187.7 141.7C188.7 140.9 189.7 140.0 190.7 139.2C191.7 138.3 192.7 137.4 193.7 136.5C194.6 135.5 195.6 134.5 196.6 133.5C197.6 132.5 198.6 131.5 199.6 130.4C200.6 129.3 202.1 127.5 202.6 127.0" fill="none" stroke="#5cae84" stroke-width="1.1" stroke-opacity="0.45"/>
<path d="M199.6 130.4C200.1 129.8 201.6 128.1 202.6 127.0C203.6 125.8 204.6 124.6 205.6 123.3C206.6 122.1 207.6 120.8 208.6 119.5C209.6 118.1 210.6 116.7 211.6 115.4C212.6 114.0 213.6 112.5 214.6 111.1C215.6 109.7 216.6 108.3 217.6 107.0C218.6 105.6 219.6 104.4 220.6 103.1C221.6 101.9 222.6 100.8 223.6 99.7C224.6 98.5 225.6 97.5 226.6 96.5C227.6 95.5 228.6 94.6 229.6 93.7C230.6 92.8 231.6 91.9 232.6 91.1C233.6 90.3 234.6 89.6 235.6 88.9C236.5 88.2 237.5 87.6 238.5 87.0C239.5 86.4 240.5 85.8 241.5 85.3C242.5 84.8 243.5 84.3 244.5 83.9C245.5 83.4 246.5 83.1 247.5 82.7C248.5 82.4 249.5 82.1 250.5 81.8C251.5 81.5 252.5 81.3 253.5 81.1C254.5 80.9 255.5 80.8 256.5 80.6C257.5 80.5 258.5 80.4 259.5 80.4C260.5 80.3 261.5 80.3 262.5 80.3C263.5 80.3 264.5 80.4 265.5 80.5C266.5 80.5 267.5 80.6 268.5 80.7C269.5 80.9 270.5 81.0 271.5 81.2C272.5 81.4 273.5 81.6 274.5 81.8C275.5 82.0 276.5 82.3 277.4 82.6C278.4 82.8 279.4 83.1 280.4 83.5C281.4 83.8 282.4 84.1 283.4 84.5C284.4 84.8 285.4 85.2 286.4 85.6C287.4 86.0 288.4 86.4 289.4 86.8C290.4 87.2 291.4 87.6 292.4 88.1C293.4 88.5 294.4 89.0 295.4 89.4C296.4 89.9 297.4 90.4 298.4 90.9C299.4 91.3 300.4 91.8 301.4 92.3C302.4 92.8 303.4 93.3 304.4 93.9C305.4 94.4 306.4 94.9 307.4 95.4C308.4 95.9 309.4 96.5 310.4 97.0C311.4 97.5 312.4 98.0 313.4 98.6C314.4 99.1 315.4 99.6 316.4 100.1C317.4 100.7 318.4 101.2 319.4 101.9C320.3 102.5 321.3 103.1 322.3 103.9C323.3 104.6 324.3 105.4 325.3 106.3C326.3 107.2 327.3 108.2 328.3 109.3C329.3 110.4 330.3 111.7 331.3 113.1C332.3 114.4 333.3 115.9 334.3 117.5C335.3 119.0 336.3 120.6 337.3 122.2C338.3 123.7 339.3 125.3 340.3 126.8C341.3 128.3 342.3 129.7 343.3 131.1C344.3 132.5 345.3 133.9 346.3 135.2C347.3 136.5 348.3 137.7 349.3 138.9C350.3 140.1 351.3 141.3 352.3 142.4C353.3 143.5 354.3 144.6 355.3 145.6C356.3 146.6 357.3 147.6 358.3 148.5C359.3 149.5 360.3 150.3 361.2 151.2C362.2 152.0 363.2 152.8 364.2 153.5C365.2 154.3 366.2 155.0 367.2 155.7C368.2 156.3 369.2 157.0 370.2 157.6C371.2 158.2 372.2 158.7 373.2 159.3C374.2 159.8 375.2 160.3 376.2 160.8C377.2 161.3 378.2 161.7 379.2 162.1C380.2 162.5 381.2 162.9 382.2 163.3C383.2 163.7 384.2 164.0 385.2 164.4C386.2 164.7 387.2 165.0 388.2 165.3C389.2 165.6 390.2 165.9 391.2 166.2C392.2 166.4 393.2 166.7 394.2 166.9C395.2 167.2 396.2 167.4 397.2 167.6C398.2 167.9 399.2 168.1 400.2 168.3C401.2 168.5 402.2 168.7 403.1 168.9C404.1 169.1 405.1 169.3 406.1 169.6C407.1 169.8 408.1 170.0 409.1 170.2C410.1 170.4 411.1 170.6 412.1 170.8C413.1 171.1 414.1 171.3 415.1 171.5C416.1 171.7 417.1 172.0 418.1 172.2C419.1 172.5 420.1 172.7 421.1 173.0C422.1 173.2 423.1 173.5 424.1 173.7C425.1 174.0 426.1 174.3 427.1 174.5C428.1 174.8 429.1 175.1 430.1 175.3C431.1 175.6 432.1 175.9 433.1 176.1C434.1 176.4 435.1 176.7 436.1 176.9C437.1 177.2 438.1 177.5 439.1 177.7C440.1 178.0 441.1 178.3 442.1 178.5C443.1 178.8 444.1 179.1 445.1 179.3C446.0 179.6 447.0 179.8 448.0 180.1C449.0 180.3 450.0 180.6 451.0 180.8C452.0 181.1 453.0 181.3 454.0 181.5C455.0 181.8 456.0 182.0 457.0 182.2C458.0 182.5 459.0 182.7 460.0 182.9C461.0 183.1 462.0 183.3 463.0 183.5C464.0 183.7 465.0 183.9 466.0 184.1C467.0 184.3 468.0 184.4 469.0 184.6C470.0 184.8 471.5 185.0 472.0 185.1" fill="none" stroke="#5cae84" stroke-width="1.25" stroke-opacity="0.75"/>
<path d="M469.0 184.6C469.5 184.7 471.0 184.9 472.0 185.1C473.0 185.2 474.0 185.4 475.0 185.5C476.0 185.7 477.0 185.8 478.0 185.9C479.0 186.0 480.0 186.1 481.0 186.2C482.0 186.3 483.0 186.4 484.0 186.5C485.0 186.6 486.0 186.6 486.9 186.7C487.9 186.8 488.9 186.8 489.9 186.8C490.9 186.9 491.9 186.9 492.9 186.9C493.9 186.9 494.9 186.9 495.9 186.9C496.9 186.9 497.9 186.9 498.9 186.9C499.9 186.8 500.9 186.8 501.9 186.8C502.9 186.7 503.9 186.7 504.9 186.6C505.9 186.6 506.9 186.5 507.9 186.5C508.9 186.5 509.9 186.4 510.9 186.4C511.9 186.4 512.9 186.3 513.9 186.3C514.9 186.3 515.9 186.3 516.9 186.3C517.9 186.3 518.9 186.3 519.9 186.3C520.9 186.3 521.9 186.4 522.9 186.4C523.9 186.4 524.9 186.5 525.9 186.5C526.9 186.6 527.9 186.7 528.9 186.7C529.8 186.8 530.8 186.9 531.8 187.0C532.8 187.1 533.8 187.1 534.8 187.2C535.8 187.3 536.8 187.4 537.8 187.5C538.8 187.6 539.8 187.8 540.8 187.9C541.8 188.0 542.8 188.1 543.8 188.2C544.8 188.3 545.8 188.4 546.8 188.6C547.8 188.7 548.8 188.8 549.8 188.9C550.8 189.1 551.8 189.2 552.8 189.3C553.8 189.4 554.8 189.5 555.8 189.7C556.8 189.8 557.8 189.9 558.8 190.0C559.8 190.1 560.8 190.2 561.8 190.3C562.8 190.4 563.8 190.5 564.8 190.6C565.8 190.7 566.8 190.8 567.8 190.9C568.8 191.0 569.8 191.1 570.8 191.1C571.7 191.2 572.7 191.3 573.7 191.3C574.7 191.4 575.7 191.4 576.7 191.5C577.7 191.5 578.7 191.6 579.7 191.6C580.7 191.6 581.7 191.6 582.7 191.6C583.7 191.6 584.7 191.6 585.7 191.6C586.7 191.6 587.7 191.5 588.7 191.5C589.7 191.5 590.7 191.4 591.7 191.4C592.7 191.3 593.7 191.2 594.7 191.2C595.7 191.1 596.7 191.0 597.7 190.9C598.7 190.8 599.7 190.7 600.7 190.6C601.7 190.5 602.7 190.4 603.7 190.3C604.7 190.2 605.7 190.1 606.7 189.9C607.7 189.8 608.7 189.7 609.7 189.5C610.7 189.4 611.7 189.2 612.6 189.1C613.6 189.0 614.6 188.8 615.6 188.7C616.6 188.5 617.6 188.3 618.6 188.2C619.6 188.0 620.6 187.9 621.6 187.7C622.6 187.5 623.6 187.4 624.6 187.2C625.6 187.0 626.6 186.9 627.6 186.7C628.6 186.5 629.6 186.3 630.6 186.2C631.6 186.0 632.6 185.8 633.6 185.7C634.6 185.5 635.6 185.3 636.6 185.1C637.6 185.0 638.6 184.8 639.6 184.6C640.6 184.5 641.6 184.3 642.6 184.1C643.6 184.0 644.6 183.8 645.6 183.7C646.6 183.5 647.6 183.4 648.6 183.2C649.6 183.1 650.6 182.9 651.6 182.8C652.6 182.6 653.6 182.5 654.5 182.4C655.5 182.2 656.5 182.1 657.5 182.0C658.5 181.9 659.5 181.7 660.5 181.6C661.5 181.5 662.5 181.4 663.5 181.3C664.5 181.2 665.5 181.1 666.5 181.1C667.5 181.0 668.5 180.9 669.5 180.9C670.5 180.8 671.5 180.7 672.5 180.7C673.5 180.6 675.0 180.6 675.5 180.6" fill="none" stroke="#5cae84" stroke-width="1.1" stroke-opacity="0.3"/>
<path d="M47.0 187.7C47.5 187.6 49.0 187.0 50.0 186.7C51.0 186.4 52.0 186.1 53.0 185.8C54.0 185.5 55.0 185.2 56.0 184.9C57.0 184.6 58.0 184.3 59.0 184.0C60.0 183.7 61.0 183.4 62.0 183.2C63.0 182.9 64.0 182.6 65.0 182.4C66.0 182.1 67.0 181.9 68.0 181.6C68.9 181.4 69.9 181.1 70.9 180.9C71.9 180.7 72.9 180.4 73.9 180.2C74.9 180.0 75.9 179.8 76.9 179.6C77.9 179.4 78.9 179.2 79.9 179.0C80.9 178.8 81.9 178.6 82.9 178.4C83.9 178.2 84.9 178.0 85.9 177.9C86.9 177.7 87.9 177.5 88.9 177.4C89.9 177.2 90.9 177.0 91.9 176.9C92.9 176.7 93.9 176.6 94.9 176.5C95.9 176.3 96.9 176.2 97.9 176.1C98.9 175.9 99.9 175.8 100.9 175.7C101.9 175.6 102.9 175.4 103.9 175.3C104.9 175.2 105.9 175.1 106.9 175.0C107.9 174.9 108.9 174.8 109.8 174.7C110.8 174.6 111.8 174.6 112.8 174.5C113.8 174.4 114.8 174.3 115.8 174.2C116.8 174.1 117.8 174.1 118.8 174.0C119.8 173.9 120.8 173.8 121.8 173.7C122.8 173.7 123.8 173.6 124.8 173.5C125.8 173.4 126.8 173.4 127.8 173.3C128.8 173.2 129.8 173.1 130.8 173.1C131.8 173.0 132.8 172.9 133.8 172.8C134.8 172.7 135.8 172.6 136.8 172.5C137.8 172.4 138.8 172.3 139.8 172.2C140.8 172.1 141.8 172.0 142.8 171.9C143.8 171.8 144.8 171.7 145.8 171.6C146.8 171.5 147.8 171.3 148.8 171.2C149.8 171.1 150.8 170.9 151.8 170.8C152.7 170.6 153.7 170.5 154.7 170.3C155.7 170.1 156.7 170.0 157.7 169.8C158.7 169.6 159.7 169.4 160.7 169.2C161.7 169.0 162.7 168.8 163.7 168.5C164.7 168.3 165.7 168.0 166.7 167.7C167.7 167.5 168.7 167.2 169.7 166.8C170.7 166.5 171.7 166.1 172.7 165.8C173.7 165.4 174.7 164.9 175.7 164.5C176.7 164.0 177.7 163.6 178.7 163.0C179.7 162.5 180.7 161.9 181.7 161.3C182.7 160.7 183.7 160.1 184.7 159.4C185.7 158.7 186.7 157.9 187.7 157.1C188.7 156.3 189.7 155.5 190.7 154.6C191.7 153.7 192.7 152.7 193.7 151.7C194.6 150.7 195.6 149.6 196.6 148.5C197.6 147.3 198.6 146.1 199.6 144.8C200.6 143.5 201.6 142.1 202.6 140.6C203.6 139.1 204.6 137.5 205.6 135.8C206.6 134.2 207.6 132.4 208.6 130.7C209.6 128.9 210.6 127.2 211.6 125.5C212.6 123.8 213.6 122.1 214.6 120.5C215.6 118.9 216.6 117.4 217.6 116.0C218.6 114.7 219.6 113.4 220.6 112.1C221.6 110.9 222.6 109.8 223.6 108.7C224.6 107.6 225.6 106.7 226.6 105.7C227.6 104.8 228.6 104.0 229.6 103.2C230.6 102.4 231.6 101.6 232.6 100.9C233.6 100.3 234.6 99.6 235.6 99.0C236.5 98.4 237.5 97.9 238.5 97.4C239.5 96.8 240.5 96.4 241.5 95.9C242.5 95.5 243.5 95.0 244.5 94.6C245.5 94.2 246.5 93.8 247.5 93.5C248.5 93.1 249.5 92.7 250.5 92.4C251.5 92.0 252.5 91.6 253.5 91.3C254.5 90.9 255.5 90.6 256.5 90.3C257.5 89.9 258.5 89.6 259.5 89.3C260.5 89.0 261.5 88.7 262.5 88.4C263.5 88.1 264.5 87.8 265.5 87.5C266.5 87.2 267.5 87.0 268.5 86.7C269.5 86.5 270.5 86.2 271.5 86.0C272.5 85.8 273.5 85.6 274.5 85.4C275.5 85.2 276.5 85.0 277.4 84.9C278.4 84.7 279.4 84.6 280.4 84.4C281.4 84.3 282.4 84.2 283.4 84.1C284.4 84.1 285.4 84.0 286.4 84.0C287.4 83.9 288.4 83.9 289.4 83.9C290.4 83.9 291.4 84.0 292.4 84.0C293.4 84.1 294.4 84.2 295.4 84.3C296.4 84.5 297.4 84.7 298.4 84.9C299.4 85.1 300.4 85.3 301.4 85.7C302.4 86.0 303.4 86.3 304.4 86.7C305.4 87.1 306.4 87.5 307.4 88.0C308.4 88.5 309.4 89.1 310.4 89.7C311.4 90.3 312.4 91.0 313.4 91.7C314.4 92.5 315.4 93.2 316.4 94.1C317.4 94.9 318.4 95.8 319.4 96.7C320.3 97.6 321.3 98.6 322.3 99.6C323.3 100.7 324.3 101.7 325.3 102.8C326.3 103.9 327.3 105.0 328.3 106.2C329.3 107.3 330.3 108.5 331.3 109.7C332.3 111.0 333.3 112.2 334.3 113.4C335.3 114.7 336.3 116.0 337.3 117.2C338.3 118.5 339.3 119.8 340.3 121.1C341.3 122.4 342.3 123.6 343.3 124.9C344.3 126.2 345.3 127.4 346.3 128.7C347.3 129.9 348.3 131.1 349.3 132.3C350.3 133.5 351.3 134.6 352.3 135.8C353.3 136.9 354.3 138.0 355.3 139.0C356.3 140.0 357.3 141.0 358.3 142.0C359.3 142.9 360.3 143.8 361.2 144.6C362.2 145.4 363.2 146.2 364.2 146.9C365.2 147.6 366.2 148.2 367.2 148.8C368.2 149.3 369.2 149.8 370.2 150.3C371.2 150.8 372.2 151.2 373.2 151.6C374.2 152.0 375.2 152.3 376.2 152.6C377.2 153.0 378.2 153.3 379.2 153.5C380.2 153.8 381.2 154.1 382.2 154.3C383.2 154.6 384.2 154.8 385.2 155.1C386.2 155.3 387.2 155.6 388.2 155.9C389.2 156.1 390.2 156.4 391.2 156.7C392.2 157.0 393.2 157.3 394.2 157.7C395.2 158.1 396.2 158.5 397.2 158.9C398.2 159.3 399.2 159.8 400.2 160.3C401.2 160.8 402.2 161.4 403.1 162.0C404.1 162.6 405.1 163.2 406.1 163.8C407.1 164.5 408.1 165.1 409.1 165.8C410.1 166.5 411.1 167.2 412.1 167.9C413.1 168.6 414.1 169.3 415.1 170.0C416.1 170.7 417.1 171.4 418.1 172.1C419.1 172.8 420.1 173.5 421.1 174.1C422.1 174.8 423.1 175.5 424.1 176.1C425.1 176.7 426.1 177.3 427.1 177.9C428.1 178.4 429.1 179.0 430.1 179.5C431.1 179.9 432.1 180.4 433.1 180.8C434.1 181.2 435.1 181.5 436.1 181.8C437.1 182.2 438.1 182.4 439.1 182.7C440.1 182.9 441.1 183.1 442.1 183.3C443.1 183.5 444.1 183.7 445.1 183.9C446.0 184.1 447.0 184.3 448.0 184.4C449.0 184.6 450.0 184.8 451.0 184.9C452.0 185.1 453.0 185.3 454.0 185.4C455.0 185.6 456.0 185.8 457.0 185.9C458.0 186.1 459.0 186.3 460.0 186.4C461.0 186.6 462.0 186.7 463.0 186.9C464.0 187.0 465.0 187.2 466.0 187.4C467.0 187.5 468.0 187.7 469.0 187.8C470.0 188.0 471.0 188.1 472.0 188.3C473.0 188.4 474.0 188.5 475.0 188.7C476.0 188.8 477.0 189.0 478.0 189.1C479.0 189.3 480.0 189.4 481.0 189.5C482.0 189.7 483.0 189.8 484.0 189.9C485.0 190.1 486.0 190.2 486.9 190.3C487.9 190.5 488.9 190.6 489.9 190.7C490.9 190.8 491.9 191.0 492.9 191.1C493.9 191.2 494.9 191.3 495.9 191.4C496.9 191.5 497.9 191.7 498.9 191.8C499.9 191.9 500.9 192.0 501.9 192.1C502.9 192.2 503.9 192.3 504.9 192.4C505.9 192.5 506.9 192.6 507.9 192.7C508.9 192.8 509.9 192.9 510.9 193.0C511.9 193.1 512.9 193.2 513.9 193.3C514.9 193.4 515.9 193.5 516.9 193.6C517.9 193.7 518.9 193.7 519.9 193.8C520.9 193.9 521.9 194.0 522.9 194.1C523.9 194.1 524.9 194.2 525.9 194.3C526.9 194.4 527.9 194.4 528.9 194.5C529.8 194.6 530.8 194.6 531.8 194.7C532.8 194.8 533.8 194.8 534.8 194.9C535.8 194.9 536.8 195.0 537.8 195.0C538.8 195.1 539.8 195.1 540.8 195.2C541.8 195.2 542.8 195.3 543.8 195.3C544.8 195.4 545.8 195.4 546.8 195.4C547.8 195.5 548.8 195.5 549.8 195.5C550.8 195.6 551.8 195.6 552.8 195.6C553.8 195.6 554.8 195.6 555.8 195.7C556.8 195.7 557.8 195.7 558.8 195.7C559.8 195.7 560.8 195.7 561.8 195.7C562.8 195.7 563.8 195.8 564.8 195.8C565.8 195.8 566.8 195.7 567.8 195.7C568.8 195.7 569.8 195.7 570.8 195.7C571.7 195.7 572.7 195.7 573.7 195.7C574.7 195.7 575.7 195.6 576.7 195.6C577.7 195.6 578.7 195.6 579.7 195.5C580.7 195.5 581.7 195.5 582.7 195.4C583.7 195.4 584.7 195.3 585.7 195.3C586.7 195.3 587.7 195.2 588.7 195.2C589.7 195.1 590.7 195.1 591.7 195.0C592.7 194.9 593.7 194.9 594.7 194.8C595.7 194.8 596.7 194.7 597.7 194.6C598.7 194.6 599.7 194.5 600.7 194.4C601.7 194.4 602.7 194.3 603.7 194.2C604.7 194.1 605.7 194.1 606.7 194.0C607.7 193.9 608.7 193.8 609.7 193.7C610.7 193.7 611.7 193.6 612.6 193.5C613.6 193.4 614.6 193.3 615.6 193.2C616.6 193.1 617.6 193.1 618.6 193.0C619.6 192.9 620.6 192.8 621.6 192.7C622.6 192.6 623.6 192.5 624.6 192.4C625.6 192.3 626.6 192.2 627.6 192.1C628.6 192.0 629.6 191.9 630.6 191.8C631.6 191.7 632.6 191.6 633.6 191.5C634.6 191.4 635.6 191.3 636.6 191.2C637.6 191.1 638.6 191.0 639.6 190.9C640.6 190.8 641.6 190.7 642.6 190.6C643.6 190.5 644.6 190.4 645.6 190.3C646.6 190.2 647.6 190.1 648.6 190.0C649.6 189.9 650.6 189.8 651.6 189.7C652.6 189.6 653.6 189.5 654.5 189.4C655.5 189.3 656.5 189.2 657.5 189.1C658.5 189.0 659.5 188.9 660.5 188.8C661.5 188.7 662.5 188.6 663.5 188.6C664.5 188.5 665.5 188.4 666.5 188.3C667.5 188.2 668.5 188.1 669.5 188.0C670.5 187.9 671.5 187.8 672.5 187.8C673.5 187.7 675.0 187.6 675.5 187.5" fill="none" stroke="#d8505a" stroke-width="1.5" stroke-opacity="0.85"/>
<rect x="46.1" y="51" width="2" height="147" fill="#74767b"/>
<rect x="46.1" y="196.0" width="632" height="2.1" fill="#5e6066"/>
<rect x="45.5" y="50" width="3.2" height="3.6" rx="1.3" fill="#1c1c1c"/>
<circle cx="677.8" cy="197.0" r="1.6" fill="#222"/>
</g>
<linearGradient id="gg" gradientUnits="userSpaceOnUse" x1="50" y1="0" x2="677" y2="0">
<stop offset="0" stop-color="#2f9247"/>
<stop offset="0.12" stop-color="#2a8c40"/>
<stop offset="0.2" stop-color="#177a2a"/>
<stop offset="0.45" stop-color="#157828"/>
<stop offset="0.52" stop-color="#2a8d42"/>
<stop offset="0.62" stop-color="#4aa262"/>
<stop offset="0.8" stop-color="#58aa6e"/>
<stop offset="0.83" stop-color="#48a25e"/>
<stop offset="1" stop-color="#3a9a50"/>
</linearGradient>
<linearGradient id="rg" gradientUnits="userSpaceOnUse" x1="50" y1="0" x2="677" y2="0">
<stop offset="0" stop-color="#d9587a"/>
<stop offset="0.12" stop-color="#d64a6e"/>
<stop offset="0.2" stop-color="#c8224c"/>
<stop offset="0.45" stop-color="#c8224c"/>
<stop offset="0.52" stop-color="#d24468"/>
<stop offset="0.62" stop-color="#dc6484"/>
<stop offset="0.66" stop-color="#b83458"/>
<stop offset="0.82" stop-color="#b43054"/>
<stop offset="0.86" stop-color="#d45272"/>
<stop offset="1" stop-color="#d65474"/>
</linearGradient>
<g filter="url(#bl)">
<rect x="48.2" y="273.5" width="2.3" height="155.2" fill="#7e8085"/>
<rect x="48.2" y="426.25" width="625" height="2.2" fill="#87888f"/>
<path d="M671.6 424.8L677.4 427.35L671.6 429.9Z" fill="#77797e"/>
<rect x="316.8" y="271.5" width="2.6" height="156" fill="#f09aca"/>
<path d="M50.6 400.7L51.9 400.0L53.5 399.1L55.0 398.3L56.5 397.6L58.0 396.9L59.5 396.2L61.0 395.5L62.5 394.9L63.9 394.3L65.4 393.7L66.9 393.1L68.4 392.6L69.9 392.1L71.4 391.6L72.8 391.2L74.3 390.8L75.8 390.4L77.3 390.0L78.8 389.6L80.3 389.3L81.8 389.0L83.2 388.7L84.7 388.4L86.2 388.2L87.7 388.0L89.2 387.8L90.7 387.6L92.2 387.4L93.7 387.2L95.2 387.1L96.7 386.9L98.2 386.8L99.7 386.6L101.2 386.5L102.7 386.3L104.2 386.2L105.7 386.0L107.2 385.8L108.7 385.6L110.2 385.5L111.7 385.3L113.2 385.0L114.7 384.8L116.3 384.5L117.8 384.2L119.3 383.9L120.8 383.6L122.3 383.3L123.9 382.9L125.4 382.5L126.9 382.1L128.4 381.6L130.0 381.1L131.5 380.6L133.0 380.0L134.6 379.5L136.1 378.8L137.6 378.2L139.2 377.5L140.7 376.8L142.2 376.0L143.7 375.2L145.3 374.3L146.8 373.4L148.3 372.5L149.9 371.5L151.4 370.5L152.9 369.4L154.5 368.3L156.0 367.1L157.5 365.9L159.0 364.7L160.6 363.4L162.1 362.0L163.6 360.6L165.1 359.2L166.6 357.8L168.1 356.3L169.6 354.8L171.2 353.3L172.7 351.7L174.2 350.2L175.7 348.6L177.2 346.9L178.7 345.3L180.2 343.7L181.7 342.0L183.2 340.3L184.7 338.6L186.2 337.0L187.7 335.3L189.3 333.6L190.8 331.9L192.3 330.2L193.8 328.5L195.3 326.8L196.8 325.1L198.3 323.4L199.8 321.7L201.3 320.1L202.8 318.4L204.3 316.7L205.8 315.1L207.3 313.4L208.8 311.8L210.3 310.1L211.8 308.5L213.2 306.9L214.7 305.3L216.2 303.8L217.7 302.2L219.2 300.7L220.7 299.1L222.2 297.6L223.7 296.1L225.2 294.7L226.7 293.2L228.2 291.8L229.7 290.4L231.2 289.0L232.7 287.7L234.1 286.3L235.6 285.1L237.1 283.8L238.6 282.5L240.0 281.4L241.5 280.3L242.9 279.2L244.4 278.3L245.8 277.4L247.2 276.6L248.7 275.9L250.1 275.3L251.5 274.9L252.9 274.6L254.3 274.4L255.7 274.3L257.1 274.3L258.5 274.4L259.9 274.7L261.3 275.0L262.7 275.5L264.2 276.1L265.6 276.7L267.0 277.5L268.4 278.4L269.9 279.4L271.3 280.5L272.7 281.7L274.2 283.0L275.6 284.3L277.1 285.8L278.6 287.4L280.0 289.0L281.5 290.8L283.0 292.6L284.5 294.5L286.0 296.5L287.4 298.6L288.9 300.8L290.4 303.0L291.9 305.2L293.4 307.6L294.9 309.9L296.4 312.4L297.9 314.8L299.4 317.3L300.9 319.8L302.4 322.3L303.9 324.8L305.4 327.4L306.9 329.9L308.4 332.5L309.9 335.0L311.4 337.6L312.9 340.1L314.4 342.7L315.9 345.2L317.4 347.7L318.9 350.2L320.4 352.7L321.9 355.1L323.4 357.5L324.9 359.8L326.4 362.1L327.9 364.3L329.4 366.5L331.0 368.6L332.5 370.6L334.0 372.5L335.5 374.3L337.1 376.1L338.6 377.7L340.2 379.3L341.7 380.8L343.3 382.1L344.8 383.4L346.3 384.6L347.9 385.7L349.4 386.8L351.0 387.7L352.5 388.6L354.1 389.5L355.6 390.2L357.2 390.9L358.7 391.6L360.3 392.2L361.8 392.8L363.3 393.3L364.9 393.8L366.4 394.2L367.9 394.6L369.4 395.0L371.0 395.4L372.5 395.8L374.0 396.1L375.5 396.4L377.0 396.7L378.5 397.0L380.0 397.3L381.5 397.5L383.1 397.8L384.6 398.1L386.1 398.3L387.6 398.6L389.1 398.9L390.5 399.2L392.0 399.5L393.5 399.8L395.0 400.1L396.5 400.4L398.0 400.8L399.5 401.1L401.0 401.5L402.5 401.8L404.0 402.2L405.5 402.6L407.0 403.0L408.5 403.4L410.0 403.8L411.5 404.2L413.0 404.6L414.5 405.0L416.0 405.4L417.5 405.8L419.0 406.2L420.5 406.7L422.0 407.1L423.5 407.5L425.0 407.9L426.5 408.3L428.0 408.7L429.6 409.1L431.1 409.5L432.6 409.9L434.1 410.3L435.6 410.7L437.1 411.1L438.6 411.4L440.1 411.8L441.6 412.1L443.1 412.5L444.6 412.8L446.1 413.1L447.6 413.4L449.1 413.7L450.7 414.0L452.2 414.3L453.7 414.5L455.2 414.8L456.7 415.0L458.2 415.2L459.7 415.4L461.2 415.6L462.7 415.8L464.2 416.0L465.7 416.2L467.2 416.3L468.8 416.5L470.3 416.6L471.8 416.8L473.3 416.9L474.8 417.0L476.3 417.1L477.8 417.2L479.3 417.3L480.8 417.4L482.3 417.5L483.8 417.6L485.3 417.7L486.8 417.7L488.3 417.8L489.8 417.9L491.3 417.9L492.8 418.0L494.3 418.0L495.8 418.1L497.3 418.2L498.8 418.2L500.3 418.2L501.8 418.3L503.3 418.3L504.8 418.4L506.3 418.4L507.8 418.5L509.3 418.5L510.8 418.6L512.3 418.6L513.8 418.7L515.3 418.7L516.8 418.8L518.3 418.9L519.8 418.9L521.3 419.0L522.8 419.1L524.3 419.2L525.8 419.2L527.3 419.3L528.8 419.4L530.3 419.5L531.8 419.6L533.3 419.8L534.8 419.9L536.3 420.0L537.8 420.1L539.3 420.3L540.8 420.5L542.3 420.6L543.8 420.8L545.3 421.0L546.8 421.2L548.3 421.4L550.0 421.6L551.3 421.8L551.5 420.2L550.2 420.0L548.5 419.8L547.0 419.6L545.5 419.4L544.0 419.2L542.5 419.0L541.0 418.8L539.5 418.7L538.0 418.5L536.5 418.4L535.0 418.3L533.5 418.1L531.9 418.0L530.4 417.9L528.9 417.8L527.4 417.7L525.9 417.6L524.4 417.5L522.9 417.4L521.4 417.4L519.9 417.3L518.4 417.2L516.9 417.2L515.4 417.1L513.9 417.0L512.4 417.0L510.9 416.9L509.4 416.9L507.9 416.8L506.4 416.8L504.9 416.7L503.4 416.7L501.9 416.6L500.4 416.6L498.9 416.5L497.4 416.5L495.9 416.4L494.4 416.4L492.9 416.3L491.4 416.3L489.9 416.2L488.4 416.1L486.9 416.1L485.4 416.0L483.9 415.9L482.4 415.8L480.9 415.7L479.4 415.7L477.9 415.6L476.4 415.4L474.9 415.3L473.4 415.2L471.9 415.1L470.4 414.9L468.9 414.8L467.4 414.7L465.9 414.5L464.4 414.3L462.9 414.1L461.4 413.9L459.9 413.7L458.4 413.5L457.0 413.3L455.5 413.1L454.0 412.8L452.5 412.5L451.0 412.3L449.5 412.0L448.0 411.7L446.5 411.4L445.0 411.0L443.5 410.7L442.0 410.3L440.5 410.0L439.0 409.6L437.5 409.2L436.0 408.9L434.5 408.5L433.0 408.1L431.6 407.7L430.1 407.3L428.6 406.8L427.1 406.4L425.6 406.0L424.1 405.6L422.6 405.2L421.1 404.7L419.6 404.3L418.1 403.9L416.6 403.5L415.1 403.0L413.6 402.6L412.1 402.2L410.6 401.8L409.1 401.3L407.6 400.9L406.1 400.5L404.6 400.1L403.0 399.7L401.5 399.4L400.0 399.0L398.5 398.6L397.0 398.3L395.5 397.9L394.0 397.6L392.5 397.2L391.0 396.9L389.5 396.6L388.0 396.3L386.5 396.0L385.0 395.7L383.5 395.5L382.0 395.2L380.5 394.9L379.0 394.6L377.5 394.3L376.0 394.0L374.5 393.6L373.0 393.3L371.6 392.9L370.1 392.6L368.6 392.1L367.1 391.7L365.6 391.2L364.2 390.8L362.7 390.2L361.2 389.7L359.8 389.1L358.3 388.4L356.9 387.7L355.4 387.0L353.9 386.2L352.5 385.3L351.0 384.4L349.6 383.3L348.1 382.3L346.7 381.1L345.2 379.9L343.8 378.6L342.3 377.2L340.8 375.6L339.4 374.0L337.9 372.3L336.4 370.5L335.0 368.6L333.5 366.7L332.0 364.6L330.5 362.5L329.0 360.3L327.6 358.1L326.1 355.8L324.6 353.4L323.1 351.0L321.6 348.6L320.1 346.1L318.6 343.6L317.1 341.1L315.6 338.5L314.1 336.0L312.6 333.4L311.1 330.9L309.6 328.3L308.0 325.8L306.5 323.2L305.0 320.7L303.5 318.2L302.0 315.7L300.5 313.2L299.0 310.7L297.5 308.3L296.0 305.9L294.5 303.6L293.0 301.3L291.5 299.0L289.9 296.8L288.4 294.7L286.9 292.7L285.4 290.7L283.9 288.8L282.3 287.0L280.8 285.3L279.3 283.7L277.7 282.2L276.2 280.8L274.6 279.4L273.1 278.2L271.5 277.1L269.9 276.1L268.3 275.2L266.8 274.4L265.2 273.7L263.6 273.1L262.0 272.6L260.4 272.2L258.8 272.0L257.2 271.8L255.6 271.8L254.0 271.9L252.4 272.1L250.8 272.5L249.2 273.0L247.7 273.6L246.1 274.3L244.5 275.1L242.9 276.0L241.4 276.9L239.8 278.0L238.3 279.1L236.7 280.3L235.2 281.5L233.7 282.8L232.2 284.1L230.6 285.4L229.1 286.8L227.6 288.2L226.1 289.6L224.6 291.0L223.1 292.5L221.6 294.0L220.1 295.5L218.6 297.0L217.0 298.5L215.5 300.1L214.0 301.7L212.5 303.2L211.0 304.8L209.5 306.4L208.0 308.1L206.5 309.7L205.0 311.3L203.5 313.0L202.0 314.6L200.5 316.3L199.0 318.0L197.5 319.7L196.0 321.4L194.5 323.1L193.0 324.7L191.5 326.4L190.0 328.1L188.5 329.8L187.0 331.5L185.5 333.2L184.0 334.9L182.5 336.6L181.0 338.3L179.5 340.0L178.0 341.6L176.5 343.3L175.0 344.9L173.5 346.5L172.0 348.1L170.5 349.7L169.0 351.2L167.5 352.7L166.1 354.2L164.6 355.7L163.1 357.1L161.6 358.5L160.1 359.8L158.6 361.1L157.1 362.4L155.7 363.6L154.2 364.8L152.7 366.0L151.2 367.1L149.8 368.1L148.3 369.1L146.8 370.1L145.3 371.0L143.9 371.9L142.4 372.7L140.9 373.5L139.5 374.3L138.0 375.0L136.5 375.7L135.0 376.4L133.6 377.0L132.1 377.6L130.6 378.2L129.2 378.7L127.7 379.2L126.2 379.7L124.7 380.1L123.2 380.5L121.8 380.9L120.3 381.3L118.8 381.6L117.3 381.9L115.8 382.2L114.4 382.4L112.9 382.7L111.4 382.9L109.9 383.1L108.4 383.3L106.9 383.5L105.4 383.6L103.9 383.8L102.4 384.0L100.9 384.1L99.4 384.3L97.9 384.4L96.4 384.6L94.9 384.7L93.4 384.9L91.9 385.1L90.4 385.2L88.9 385.4L87.4 385.6L85.8 385.9L84.3 386.1L82.8 386.4L81.3 386.7L79.8 387.0L78.3 387.3L76.7 387.7L75.2 388.1L73.7 388.5L72.2 388.9L70.7 389.4L69.2 389.9L67.6 390.4L66.1 391.0L64.6 391.5L63.1 392.1L61.6 392.7L60.0 393.4L58.5 394.1L57.0 394.8L55.5 395.5L54.0 396.3L52.5 397.0L50.8 398.0L49.4 398.7Z" fill="url(#gg)"/>
<path d="M552.2 421.1L552.2 420.5L552.4 420.1L553.7 419.8L555.5 419.5L557.0 419.3L558.4 419.1L559.9 418.9L561.4 418.8L562.9 418.6L564.4 418.4L565.8 418.3L567.3 418.1L568.8 418.0L570.3 417.9L571.8 417.7L573.2 417.6L574.7 417.5L576.2 417.4L577.7 417.2L579.2 417.1L580.6 417.0L582.1 416.9L583.6 416.8L585.1 416.7L586.6 416.6L588.1 416.5L589.5 416.4L591.0 416.3L592.5 416.2L594.0 416.1L595.5 416.0L597.0 415.9L598.4 415.8L599.9 415.7L601.4 415.6L602.9 415.5L604.4 415.4L605.9 415.3L607.4 415.2L608.8 415.1L610.3 415.0L611.8 414.8L613.3 414.7L614.8 414.6L616.3 414.5L617.8 414.3L619.2 414.2L620.7 414.1L622.2 413.9L623.7 413.8L625.2 413.6L626.7 413.5L628.2 413.3L629.7 413.1L631.1 412.9L632.6 412.7L634.1 412.5L635.6 412.3L637.1 412.1L638.6 411.9L640.1 411.7L641.6 411.4L643.1 411.2L644.6 410.9L646.0 410.6L647.5 410.4L649.0 410.1L650.5 409.8L652.0 409.5L653.5 409.1L655.0 408.8L656.5 408.5L658.0 408.1L659.5 407.7L661.0 407.3L662.5 406.9L664.0 406.5L665.4 406.1L666.9 405.7L668.4 405.2L669.9 404.8L671.4 404.3L672.9 403.8L674.4 403.3L676.1 402.7L677.4 402.2L676.6 400.0L675.3 400.5L673.7 401.1L672.2 401.6L670.7 402.1L669.2 402.6L667.8 403.1L666.3 403.5L664.8 404.0L663.3 404.4L661.9 404.8L660.4 405.2L658.9 405.6L657.5 406.0L656.0 406.4L654.5 406.7L653.0 407.0L651.6 407.4L650.1 407.7L648.6 408.0L647.1 408.3L645.7 408.6L644.2 408.9L642.7 409.1L641.2 409.4L639.8 409.6L638.3 409.9L636.8 410.1L635.3 410.3L633.8 410.5L632.4 410.7L630.9 410.9L629.4 411.1L627.9 411.3L626.5 411.5L625.0 411.7L623.5 411.8L622.0 412.0L620.5 412.1L619.1 412.3L617.6 412.4L616.1 412.6L614.6 412.7L613.1 412.8L611.7 413.0L610.2 413.1L608.7 413.2L607.2 413.3L605.7 413.5L604.2 413.6L602.8 413.7L601.3 413.8L599.8 413.9L598.3 414.0L596.8 414.1L595.4 414.2L593.9 414.3L592.4 414.4L590.9 414.5L589.4 414.6L587.9 414.7L586.5 414.9L585.0 415.0L583.5 415.1L582.0 415.2L580.5 415.3L579.0 415.4L577.5 415.5L576.1 415.7L574.6 415.8L573.1 415.9L571.6 416.1L570.1 416.2L568.6 416.3L567.2 416.5L565.7 416.6L564.2 416.8L562.7 417.0L561.2 417.1L559.7 417.3L558.2 417.5L556.8 417.7L555.2 417.9L553.4 418.2L551.6 418.7L550.7 420.0L550.6 420.9Z" fill="url(#gg)"/>
<path d="M50.3 412.5L51.6 412.1L53.2 411.6L54.7 411.3L56.2 410.9L57.7 410.6L59.2 410.3L60.6 410.1L62.1 409.9L63.6 409.7L65.1 409.5L66.6 409.4L68.1 409.2L69.6 409.1L71.0 409.0L72.5 409.0L74.0 408.9L75.5 408.9L77.0 408.9L78.5 408.9L80.0 408.9L81.5 408.9L83.0 409.0L84.5 409.0L86.0 409.0L87.5 409.1L89.0 409.1L90.5 409.2L92.0 409.3L93.5 409.3L95.0 409.4L96.5 409.4L98.0 409.5L99.5 409.5L101.0 409.5L102.5 409.6L104.0 409.6L105.5 409.6L107.0 409.6L108.5 409.5L110.0 409.5L111.5 409.4L113.1 409.4L114.6 409.3L116.1 409.2L117.6 409.0L119.1 408.8L120.6 408.7L122.1 408.5L123.7 408.2L125.2 408.0L126.7 407.7L128.2 407.3L129.7 407.0L131.3 406.6L132.8 406.2L134.3 405.7L135.8 405.2L137.4 404.7L138.9 404.2L140.4 403.6L141.9 403.0L143.4 402.4L145.0 401.8L146.5 401.1L148.0 400.4L149.5 399.7L151.0 398.9L152.5 398.1L154.1 397.3L155.6 396.5L157.1 395.6L158.6 394.7L160.1 393.8L161.6 392.8L163.1 391.9L164.7 390.9L166.2 389.9L167.7 388.9L169.2 387.8L170.7 386.7L172.2 385.6L173.7 384.5L175.2 383.4L176.7 382.2L178.3 381.1L179.8 379.9L181.3 378.7L182.8 377.5L184.3 376.3L185.8 375.1L187.3 373.9L188.8 372.6L190.3 371.4L191.8 370.1L193.3 368.9L194.8 367.6L196.3 366.3L197.8 365.1L199.3 363.8L200.8 362.5L202.3 361.2L203.8 360.0L205.3 358.7L206.8 357.4L208.3 356.2L209.8 354.9L211.3 353.6L212.8 352.4L214.3 351.1L215.8 349.9L217.3 348.7L218.8 347.5L220.3 346.3L221.8 345.1L223.3 343.9L224.8 342.8L226.3 341.6L227.8 340.5L229.3 339.4L230.8 338.3L232.3 337.2L233.7 336.2L235.2 335.2L236.7 334.2L238.2 333.2L239.7 332.3L241.1 331.5L242.6 330.7L244.1 329.9L245.5 329.3L247.0 328.7L248.4 328.2L249.8 327.7L251.3 327.4L252.7 327.2L254.1 327.0L255.5 327.0L256.9 327.1L258.3 327.3L259.7 327.6L261.1 328.0L262.5 328.5L263.9 329.2L265.4 329.9L266.8 330.8L268.2 331.8L269.7 332.9L271.2 334.0L272.6 335.3L274.1 336.6L275.6 338.1L277.1 339.5L278.6 341.1L280.0 342.7L281.5 344.3L283.0 345.9L284.5 347.6L286.0 349.3L287.5 351.0L289.0 352.7L290.5 354.4L292.0 356.2L293.5 357.9L295.0 359.6L296.5 361.3L298.0 363.0L299.5 364.7L301.0 366.4L302.5 368.1L304.0 369.7L305.5 371.4L307.1 373.0L308.6 374.6L310.1 376.1L311.6 377.7L313.1 379.2L314.6 380.6L316.1 382.0L317.6 383.4L319.1 384.8L320.7 386.1L322.2 387.3L323.7 388.5L325.2 389.7L326.7 390.9L328.2 392.0L329.8 393.0L331.3 394.1L332.8 395.1L334.3 396.0L335.8 397.0L337.4 397.9L338.9 398.7L340.4 399.6L341.9 400.4L343.5 401.2L345.0 401.9L346.5 402.7L348.0 403.4L349.5 404.1L351.0 404.7L352.6 405.4L354.1 406.0L355.6 406.6L357.1 407.1L358.6 407.7L360.1 408.2L361.6 408.8L363.2 409.3L364.7 409.8L366.2 410.2L367.7 410.7L369.2 411.1L370.7 411.6L372.2 412.0L373.7 412.4L375.2 412.8L376.7 413.2L378.2 413.6L379.8 414.0L381.3 414.4L382.8 414.7L384.3 415.1L385.8 415.5L387.3 415.8L388.8 416.2L390.3 416.5L391.8 416.9L393.3 417.2L394.8 417.5L396.3 417.8L397.8 418.2L399.3 418.5L400.8 418.8L402.3 419.1L403.8 419.4L405.3 419.7L406.8 420.0L408.3 420.3L409.8 420.6L411.3 420.8L412.8 421.1L414.3 421.4L415.8 421.6L417.4 421.9L418.9 422.2L420.4 422.4L421.9 422.6L423.4 422.9L424.9 423.1L426.4 423.3L427.9 423.6L429.4 423.8L430.9 424.0L432.4 424.2L433.9 424.4L435.4 424.6L436.9 424.8L438.4 425.0L439.9 425.2L441.4 425.3L442.9 425.5L444.4 425.7L445.9 425.8L447.4 426.0L448.9 426.1L450.4 426.3L451.9 426.4L453.4 426.5L454.9 426.7L456.4 426.8L457.9 426.9L459.4 427.0L460.9 427.1L462.4 427.2L463.9 427.3L465.5 427.4L467.0 427.5L468.5 427.6L470.0 427.7L471.5 427.7L473.0 427.8L474.5 427.8L476.0 427.8L477.5 427.8L479.0 427.8L480.5 427.8L482.0 427.8L483.5 427.8L485.0 427.8L486.5 427.8L488.0 427.8L489.5 427.8L491.0 427.8L492.5 427.8L494.0 427.8L495.5 427.8L497.0 427.8L498.5 427.8L500.0 427.8L501.5 427.8L503.0 427.8L504.5 427.8L506.0 427.8L507.5 427.8L509.0 427.8L510.5 427.8L512.0 427.8L513.5 427.8L515.0 427.8L516.5 427.8L518.0 427.8L519.5 427.8L521.0 427.8L522.5 427.8L524.0 427.8L525.5 427.8L527.0 427.8L528.5 427.8L530.0 427.8L531.5 427.8L533.0 427.8L534.5 427.8L536.0 427.8L537.5 427.8L539.0 427.8L540.5 427.7L542.0 427.7L543.5 427.6L545.0 427.5L546.5 427.5L548.0 427.4L549.5 427.4L551.0 427.3L552.5 427.3L554.0 427.2L555.5 427.1L557.0 427.1L558.5 427.0L560.0 427.0L561.5 426.9L563.0 426.8L564.5 426.8L566.0 426.7L567.5 426.7L569.0 426.6L570.5 426.5L572.0 426.5L573.5 426.4L575.0 426.4L576.5 426.3L578.0 426.2L579.5 426.2L581.0 426.1L582.5 426.0L584.0 426.0L585.5 425.9L587.0 425.8L588.5 425.7L590.0 425.7L591.5 425.6L593.0 425.5L594.6 425.4L596.1 425.3L597.6 425.2L599.1 425.1L600.6 425.1L602.1 425.0L603.6 424.8L605.1 424.7L606.6 424.6L608.1 424.5L609.6 424.4L611.1 424.3L612.6 424.2L614.1 424.0L615.6 423.9L617.1 423.8L618.6 423.6L620.1 423.5L621.6 423.3L623.1 423.1L624.6 423.0L626.1 422.8L627.6 422.6L629.1 422.5L630.6 422.3L632.1 422.1L633.6 421.9L635.1 421.7L636.6 421.5L638.1 421.3L639.6 421.0L641.2 420.8L642.7 420.6L644.2 420.3L645.7 420.1L647.2 419.8L648.7 419.5L650.2 419.3L651.7 419.0L653.2 418.7L654.7 418.4L656.2 418.1L657.7 417.8L659.2 417.5L660.7 417.1L662.2 416.8L663.7 416.4L665.2 416.1L666.7 415.7L668.3 415.4L669.8 415.0L671.3 414.6L672.8 414.2L674.3 413.8L676.0 413.3L677.3 412.9L676.7 410.9L675.4 411.3L673.7 411.8L672.2 412.2L670.7 412.6L669.2 413.0L667.7 413.4L666.3 413.7L664.8 414.1L663.3 414.5L661.8 414.8L660.3 415.2L658.8 415.5L657.3 415.8L655.8 416.1L654.3 416.4L652.8 416.7L651.3 417.0L649.8 417.3L648.3 417.6L646.8 417.9L645.3 418.1L643.8 418.4L642.3 418.6L640.8 418.9L639.4 419.1L637.9 419.4L636.4 419.6L634.9 419.8L633.4 420.0L631.9 420.2L630.4 420.4L628.9 420.6L627.4 420.8L625.9 421.0L624.4 421.1L622.9 421.3L621.4 421.5L619.9 421.6L618.4 421.8L616.9 421.9L615.4 422.1L613.9 422.2L612.4 422.4L610.9 422.5L609.4 422.6L607.9 422.7L606.4 422.9L604.9 423.0L603.4 423.1L601.9 423.2L600.4 423.3L598.9 423.4L597.4 423.5L595.9 423.6L594.4 423.7L593.0 423.8L591.5 423.9L590.0 424.0L588.5 424.0L587.0 424.1L585.5 424.2L584.0 424.3L582.5 424.4L581.0 424.4L579.5 424.5L578.0 424.6L576.5 424.6L575.0 424.7L573.5 424.8L572.0 424.8L570.5 424.9L569.0 425.0L567.5 425.0L566.0 425.1L564.5 425.2L563.0 425.2L561.5 425.3L560.0 425.4L558.5 425.4L557.0 425.5L555.5 425.5L554.0 425.6L552.5 425.7L551.0 425.7L549.5 425.8L548.0 425.8L546.5 425.9L545.0 426.0L543.5 426.0L542.0 426.1L540.5 426.1L539.0 426.2L537.5 426.2L536.0 426.2L534.5 426.2L533.0 426.2L531.5 426.2L530.0 426.2L528.5 426.2L527.0 426.2L525.5 426.2L524.0 426.2L522.5 426.2L521.0 426.2L519.5 426.2L518.0 426.2L516.5 426.2L515.0 426.2L513.5 426.2L512.0 426.2L510.5 426.2L509.0 426.2L507.5 426.2L506.0 426.2L504.5 426.2L503.0 426.2L501.5 426.2L500.0 426.2L498.5 426.2L497.0 426.2L495.5 426.2L494.0 426.2L492.5 426.2L491.0 426.2L489.5 426.2L488.0 426.2L486.5 426.2L485.0 426.2L483.5 426.2L482.0 426.2L480.5 426.2L479.0 426.2L477.5 426.2L476.0 426.2L474.5 426.2L473.0 426.2L471.5 426.1L470.0 426.1L468.5 426.0L467.0 425.9L465.5 425.8L464.1 425.7L462.6 425.6L461.1 425.5L459.6 425.4L458.1 425.3L456.6 425.2L455.1 425.1L453.6 424.9L452.1 424.8L450.6 424.7L449.1 424.5L447.6 424.4L446.1 424.2L444.6 424.0L443.1 423.9L441.6 423.7L440.1 423.5L438.6 423.3L437.1 423.2L435.6 423.0L434.1 422.8L432.6 422.6L431.1 422.3L429.6 422.1L428.1 421.9L426.6 421.7L425.1 421.5L423.6 421.2L422.1 421.0L420.6 420.7L419.1 420.5L417.6 420.2L416.2 419.9L414.7 419.7L413.2 419.4L411.7 419.1L410.2 418.8L408.7 418.5L407.2 418.2L405.7 417.9L404.2 417.6L402.7 417.3L401.2 417.0L399.7 416.7L398.2 416.3L396.7 416.0L395.2 415.7L393.7 415.3L392.2 415.0L390.7 414.6L389.2 414.3L387.7 413.9L386.2 413.6L384.7 413.2L383.2 412.8L381.7 412.4L380.2 412.0L378.8 411.7L377.3 411.3L375.8 410.8L374.3 410.4L372.8 410.0L371.3 409.6L369.8 409.1L368.3 408.7L366.8 408.2L365.3 407.7L363.8 407.2L362.4 406.7L360.9 406.2L359.4 405.6L357.9 405.1L356.4 404.5L354.9 403.9L353.4 403.3L352.0 402.6L350.5 402.0L349.0 401.3L347.5 400.6L346.0 399.8L344.5 399.1L343.1 398.3L341.6 397.4L340.1 396.6L338.6 395.7L337.2 394.8L335.7 393.9L334.2 392.9L332.7 391.9L331.2 390.9L329.8 389.9L328.3 388.8L326.8 387.7L325.3 386.5L323.8 385.3L322.3 384.1L320.9 382.8L319.4 381.5L317.9 380.1L316.4 378.7L314.9 377.3L313.4 375.8L311.9 374.3L310.4 372.8L308.9 371.2L307.5 369.6L306.0 368.0L304.5 366.3L303.0 364.7L301.5 363.0L300.0 361.3L298.5 359.6L297.0 357.9L295.5 356.2L294.0 354.5L292.5 352.7L291.0 351.0L289.5 349.3L288.0 347.6L286.5 345.9L285.0 344.2L283.5 342.5L282.0 340.9L280.4 339.3L278.9 337.7L277.4 336.2L275.9 334.7L274.4 333.4L272.8 332.0L271.3 330.8L269.8 329.7L268.2 328.6L266.6 327.7L265.1 326.8L263.5 326.1L261.9 325.5L260.3 325.1L258.7 324.7L257.1 324.5L255.5 324.4L253.9 324.4L252.3 324.6L250.7 324.9L249.2 325.2L247.6 325.7L246.0 326.3L244.5 326.9L242.9 327.6L241.4 328.4L239.9 329.2L238.3 330.1L236.8 331.0L235.3 332.0L233.8 333.0L232.3 334.1L230.7 335.1L229.2 336.2L227.7 337.3L226.2 338.4L224.7 339.5L223.2 340.7L221.7 341.9L220.2 343.0L218.7 344.2L217.2 345.5L215.7 346.7L214.2 347.9L212.7 349.1L211.2 350.4L209.7 351.6L208.2 352.9L206.7 354.2L205.2 355.4L203.7 356.7L202.2 358.0L200.7 359.3L199.2 360.5L197.7 361.8L196.2 363.1L194.7 364.4L193.2 365.6L191.7 366.9L190.2 368.2L188.7 369.4L187.2 370.7L185.7 371.9L184.2 373.2L182.7 374.4L181.2 375.6L179.7 376.8L178.2 378.0L176.7 379.1L175.3 380.3L173.8 381.4L172.3 382.6L170.8 383.7L169.3 384.8L167.8 385.8L166.3 386.9L164.8 387.9L163.3 388.9L161.9 389.9L160.4 390.8L158.9 391.8L157.4 392.7L155.9 393.6L154.4 394.4L152.9 395.3L151.5 396.1L150.0 396.8L148.5 397.6L147.0 398.3L145.5 399.0L144.0 399.7L142.6 400.4L141.1 401.0L139.6 401.6L138.1 402.2L136.6 402.7L135.2 403.2L133.7 403.7L132.2 404.2L130.7 404.6L129.3 405.0L127.8 405.4L126.3 405.7L124.8 406.0L123.3 406.3L121.9 406.5L120.4 406.8L118.9 407.0L117.4 407.1L115.9 407.3L114.4 407.4L112.9 407.5L111.5 407.5L110.0 407.6L108.5 407.6L107.0 407.7L105.5 407.7L104.0 407.7L102.5 407.7L101.0 407.6L99.5 407.6L98.0 407.6L96.5 407.5L95.0 407.5L93.5 407.4L92.0 407.4L90.5 407.3L89.0 407.2L87.5 407.2L86.0 407.1L84.5 407.1L83.0 407.1L81.5 407.0L80.0 407.0L78.5 407.0L77.0 407.0L75.5 407.0L74.0 407.0L72.5 407.1L71.0 407.2L69.4 407.2L67.9 407.3L66.4 407.5L64.9 407.6L63.4 407.8L61.9 408.0L60.4 408.2L58.8 408.5L57.3 408.8L55.8 409.1L54.3 409.4L52.8 409.8L51.0 410.3L49.7 410.7Z" fill="url(#rg)"/>
<ellipse cx="255.8" cy="271.6" rx="3.4" ry="1.3" fill="#fefefe" opacity="0.85"/>
</g>
<g filter="url(#bl2)" fill="#1e1e1e" stroke="#1e1e1e" stroke-width="0.15" font-family="'Liberation Sans', sans-serif" font-size="10">
<text x="30.9" y="60.5" text-anchor="middle">100</text>
<text x="27.9" y="128.0" text-anchor="middle">50</text>
<text x="45.8" y="219.2" text-anchor="middle">0</text>
<text x="177.5" y="219.3" text-anchor="middle">20</text>
<text x="302.3" y="219.0" text-anchor="middle">40</text>
<text x="433.7" y="218.9" text-anchor="middle">60</text>
<text x="560.3" y="219.0" text-anchor="middle">80</text>
<text x="671.7" y="219.0" text-anchor="middle">100</text>
<text x="28.0" y="285.0" text-anchor="middle">100</text>
<text x="35.5" y="362.2" text-anchor="middle">50</text>
<text x="48.0" y="454.6" text-anchor="middle">0</text>
<text x="179.3" y="454.3" text-anchor="middle">20</text>
<text x="302.5" y="454.6" text-anchor="middle">40</text>
<text x="433.4" y="454.6" text-anchor="middle">60</text>
<text x="560.5" y="454.4" text-anchor="middle">80</text>
<text x="672.0" y="454.6" text-anchor="middle">100</text>
<text transform="translate(10.1 116.2) rotate(-90)" text-anchor="middle" font-size="9.5">Y PMx [%]</text>
<text transform="translate(10.2 353.7) rotate(-90)" text-anchor="middle" font-size="9.5">Y MVC [%]</text>
<text x="9.5" y="183.3" text-anchor="middle" font-size="14.5">A</text>
<text x="14.7" y="420.6" text-anchor="middle" font-size="14.5">B</text>
</g>
<g filter="url(#bl2)" fill="#111" font-family="'Liberation Serif', serif" font-weight="bold" font-size="10.7">
<text x="154.5" y="82.4" text-anchor="middle">Underwater Phase</text>
<text x="421.7" y="79.4" text-anchor="middle">Aerial Phase</text>
<text x="157.3" y="292.4" text-anchor="middle">Underwater Phase</text>
<text x="436.9" y="293.3" text-anchor="middle">Aerial Phase</text>
<text x="331.6" y="230.0" text-anchor="middle">Cycle [%]</text>
<text x="328.9" y="468.3" text-anchor="middle">Cycle [%]</text>
</g>
</svg>
</body></html>
